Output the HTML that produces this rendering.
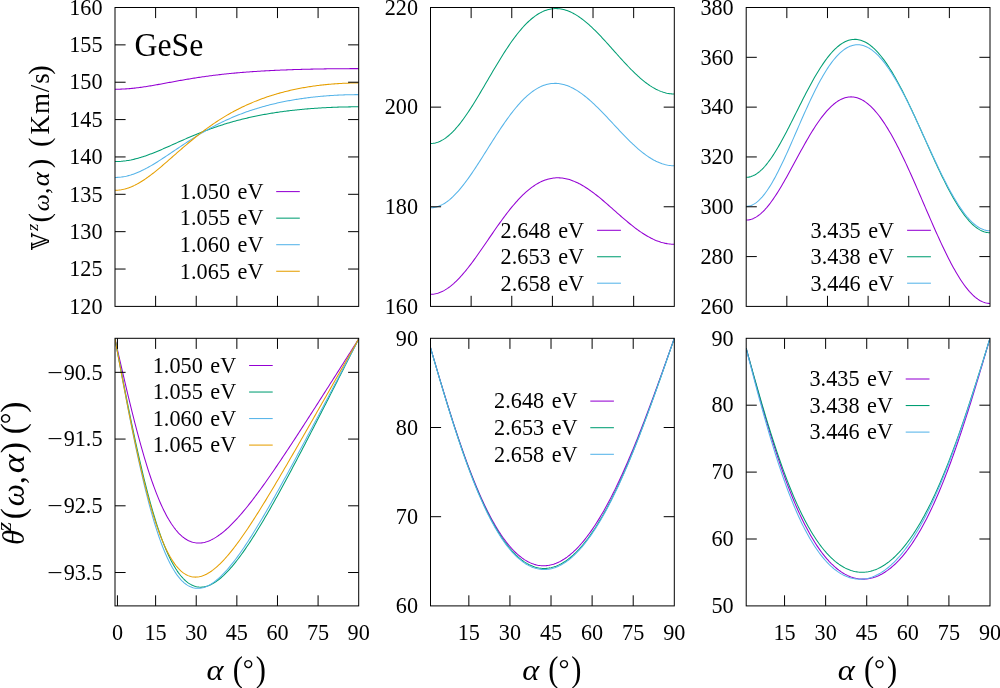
<!DOCTYPE html>
<html><head><meta charset="utf-8"><title>GeSe spin velocity</title>
<style>
html,body{margin:0;padding:0;background:#fff;}
svg{display:block;font-family:"Liberation Serif","DejaVu Serif",serif;}
text{fill:#000;}
</style></head>
<body>
<svg width="1000" height="688" viewBox="0 0 1000 688">
<defs><clipPath id="c00"><rect x="115.00" y="7.50" width="243.70" height="298.90"/></clipPath><clipPath id="c01"><rect x="115.00" y="338.30" width="243.70" height="267.60"/></clipPath><clipPath id="c10"><rect x="430.50" y="7.50" width="243.80" height="298.90"/></clipPath><clipPath id="c11"><rect x="430.50" y="338.30" width="243.80" height="267.60"/></clipPath><clipPath id="c20"><rect x="746.20" y="7.50" width="243.80" height="298.90"/></clipPath><clipPath id="c21"><rect x="746.20" y="338.30" width="243.80" height="267.60"/></clipPath></defs>
<rect width="1000" height="688" fill="#fff"/>
<polyline points="115.00,89.25 116.22,89.24 117.44,89.23 118.66,89.21 119.87,89.18 121.09,89.14 122.31,89.09 123.53,89.03 124.75,88.96 125.97,88.88 127.19,88.80 128.40,88.71 129.62,88.61 130.84,88.50 132.06,88.38 133.28,88.26 134.50,88.12 135.71,87.99 136.93,87.84 138.15,87.69 139.37,87.53 140.59,87.37 141.81,87.20 143.03,87.03 144.24,86.85 145.46,86.66 146.68,86.47 147.90,86.28 149.12,86.08 150.34,85.88 151.56,85.67 152.77,85.47 153.99,85.26 155.21,85.04 156.43,84.83 157.65,84.61 158.87,84.39 160.08,84.17 161.30,83.95 162.52,83.72 163.74,83.50 164.96,83.27 166.18,83.05 167.40,82.82 168.61,82.60 169.83,82.37 171.05,82.15 172.27,81.92 173.49,81.70 174.71,81.47 175.93,81.25 177.14,81.03 178.36,80.81 179.58,80.59 180.80,80.38 182.02,80.16 183.24,79.95 184.45,79.74 185.67,79.53 186.89,79.32 188.11,79.11 189.33,78.91 190.55,78.71 191.77,78.51 192.98,78.31 194.20,78.12 195.42,77.93 196.64,77.74 197.86,77.55 199.08,77.37 200.29,77.19 201.51,77.01 202.73,76.83 203.95,76.66 205.17,76.48 206.39,76.31 207.61,76.15 208.82,75.98 210.04,75.82 211.26,75.66 212.48,75.51 213.70,75.35 214.92,75.20 216.14,75.05 217.35,74.91 218.57,74.76 219.79,74.62 221.01,74.48 222.23,74.35 223.45,74.21 224.66,74.08 225.88,73.95 227.10,73.82 228.32,73.70 229.54,73.58 230.76,73.46 231.98,73.34 233.19,73.22 234.41,73.11 235.63,73.00 236.85,72.89 238.07,72.78 239.29,72.67 240.51,72.57 241.72,72.47 242.94,72.37 244.16,72.27 245.38,72.18 246.60,72.08 247.82,71.99 249.03,71.90 250.25,71.81 251.47,71.73 252.69,71.64 253.91,71.56 255.13,71.48 256.35,71.40 257.56,71.32 258.78,71.24 260.00,71.17 261.22,71.09 262.44,71.02 263.66,70.95 264.88,70.88 266.09,70.81 267.31,70.75 268.53,70.68 269.75,70.62 270.97,70.56 272.19,70.49 273.40,70.44 274.62,70.38 275.84,70.32 277.06,70.26 278.28,70.21 279.50,70.16 280.72,70.10 281.93,70.05 283.15,70.00 284.37,69.95 285.59,69.91 286.81,69.86 288.03,69.81 289.25,69.77 290.46,69.73 291.68,69.68 292.90,69.64 294.12,69.60 295.34,69.56 296.56,69.52 297.77,69.49 298.99,69.45 300.21,69.42 301.43,69.38 302.65,69.35 303.87,69.31 305.09,69.28 306.30,69.25 307.52,69.22 308.74,69.19 309.96,69.16 311.18,69.14 312.40,69.11 313.62,69.08 314.83,69.06 316.05,69.03 317.27,69.01 318.49,68.99 319.71,68.96 320.93,68.94 322.14,68.92 323.36,68.90 324.58,68.88 325.80,68.86 327.02,68.85 328.24,68.83 329.46,68.81 330.67,68.80 331.89,68.78 333.11,68.77 334.33,68.75 335.55,68.74 336.77,68.73 337.99,68.72 339.20,68.71 340.42,68.70 341.64,68.69 342.86,68.68 344.08,68.67 345.30,68.66 346.51,68.66 347.73,68.65 348.95,68.65 350.17,68.64 351.39,68.64 352.61,68.63 353.83,68.63 355.04,68.63 356.26,68.63 357.48,68.63 358.70,68.63" fill="none" stroke="#9400d3" stroke-width="1.05" stroke-linejoin="round" clip-path="url(#c00)"/>
<polyline points="115.00,161.58 116.22,161.57 117.44,161.54 118.66,161.49 119.87,161.42 121.09,161.34 122.31,161.23 123.53,161.10 124.75,160.95 125.97,160.79 127.19,160.60 128.40,160.40 129.62,160.18 130.84,159.95 132.06,159.69 133.28,159.42 134.50,159.13 135.71,158.83 136.93,158.51 138.15,158.17 139.37,157.82 140.59,157.46 141.81,157.08 143.03,156.69 144.24,156.29 145.46,155.88 146.68,155.45 147.90,155.01 149.12,154.57 150.34,154.11 151.56,153.64 152.77,153.17 153.99,152.69 155.21,152.20 156.43,151.70 157.65,151.19 158.87,150.68 160.08,150.17 161.30,149.65 162.52,149.12 163.74,148.59 164.96,148.06 166.18,147.52 167.40,146.98 168.61,146.44 169.83,145.90 171.05,145.36 172.27,144.81 173.49,144.27 174.71,143.72 175.93,143.18 177.14,142.63 178.36,142.09 179.58,141.55 180.80,141.01 182.02,140.47 183.24,139.93 184.45,139.39 185.67,138.86 186.89,138.33 188.11,137.81 189.33,137.28 190.55,136.76 191.77,136.25 192.98,135.74 194.20,135.23 195.42,134.72 196.64,134.22 197.86,133.73 199.08,133.24 200.29,132.75 201.51,132.27 202.73,131.79 203.95,131.32 205.17,130.86 206.39,130.39 207.61,129.94 208.82,129.49 210.04,129.04 211.26,128.60 212.48,128.17 213.70,127.74 214.92,127.31 216.14,126.89 217.35,126.48 218.57,126.07 219.79,125.67 221.01,125.27 222.23,124.88 223.45,124.49 224.66,124.11 225.88,123.74 227.10,123.37 228.32,123.00 229.54,122.64 230.76,122.29 231.98,121.94 233.19,121.60 234.41,121.26 235.63,120.92 236.85,120.60 238.07,120.27 239.29,119.96 240.51,119.64 241.72,119.34 242.94,119.03 244.16,118.73 245.38,118.44 246.60,118.15 247.82,117.87 249.03,117.59 250.25,117.32 251.47,117.05 252.69,116.78 253.91,116.52 255.13,116.27 256.35,116.01 257.56,115.77 258.78,115.53 260.00,115.29 261.22,115.05 262.44,114.82 263.66,114.60 264.88,114.38 266.09,114.16 267.31,113.94 268.53,113.73 269.75,113.53 270.97,113.33 272.19,113.13 273.40,112.94 274.62,112.74 275.84,112.56 277.06,112.37 278.28,112.20 279.50,112.02 280.72,111.85 281.93,111.68 283.15,111.51 284.37,111.35 285.59,111.19 286.81,111.04 288.03,110.89 289.25,110.74 290.46,110.59 291.68,110.45 292.90,110.31 294.12,110.17 295.34,110.04 296.56,109.91 297.77,109.79 298.99,109.66 300.21,109.54 301.43,109.42 302.65,109.31 303.87,109.20 305.09,109.09 306.30,108.98 307.52,108.88 308.74,108.78 309.96,108.68 311.18,108.58 312.40,108.49 313.62,108.40 314.83,108.31 316.05,108.23 317.27,108.15 318.49,108.07 319.71,107.99 320.93,107.92 322.14,107.85 323.36,107.78 324.58,107.71 325.80,107.65 327.02,107.58 328.24,107.52 329.46,107.47 330.67,107.41 331.89,107.36 333.11,107.31 334.33,107.27 335.55,107.22 336.77,107.18 337.99,107.14 339.20,107.10 340.42,107.06 341.64,107.03 342.86,107.00 344.08,106.97 345.30,106.95 346.51,106.92 347.73,106.90 348.95,106.88 350.17,106.86 351.39,106.85 352.61,106.84 353.83,106.83 355.04,106.82 356.26,106.81 357.48,106.81 358.70,106.81" fill="none" stroke="#009e73" stroke-width="1.05" stroke-linejoin="round" clip-path="url(#c00)"/>
<polyline points="115.00,177.42 116.22,177.41 117.44,177.36 118.66,177.29 119.87,177.18 121.09,177.05 122.31,176.89 123.53,176.69 124.75,176.47 125.97,176.22 127.19,175.94 128.40,175.63 129.62,175.30 130.84,174.94 132.06,174.55 133.28,174.14 134.50,173.70 135.71,173.24 136.93,172.76 138.15,172.25 139.37,171.72 140.59,171.17 141.81,170.60 143.03,170.01 144.24,169.40 145.46,168.77 146.68,168.13 147.90,167.47 149.12,166.79 150.34,166.10 151.56,165.40 152.77,164.68 153.99,163.95 155.21,163.21 156.43,162.45 157.65,161.69 158.87,160.92 160.08,160.14 161.30,159.36 162.52,158.56 163.74,157.76 164.96,156.96 166.18,156.15 167.40,155.34 168.61,154.52 169.83,153.70 171.05,152.88 172.27,152.06 173.49,151.24 174.71,150.42 175.93,149.60 177.14,148.78 178.36,147.96 179.58,147.14 180.80,146.32 182.02,145.51 183.24,144.70 184.45,143.90 185.67,143.09 186.89,142.30 188.11,141.50 189.33,140.72 190.55,139.93 191.77,139.16 192.98,138.39 194.20,137.62 195.42,136.86 196.64,136.11 197.86,135.36 199.08,134.62 200.29,133.89 201.51,133.17 202.73,132.45 203.95,131.74 205.17,131.04 206.39,130.34 207.61,129.65 208.82,128.97 210.04,128.30 211.26,127.64 212.48,126.98 213.70,126.34 214.92,125.70 216.14,125.06 217.35,124.44 218.57,123.83 219.79,123.22 221.01,122.62 222.23,122.03 223.45,121.45 224.66,120.87 225.88,120.30 227.10,119.75 228.32,119.20 229.54,118.65 230.76,118.12 231.98,117.59 233.19,117.07 234.41,116.56 235.63,116.06 236.85,115.56 238.07,115.08 239.29,114.60 240.51,114.12 241.72,113.66 242.94,113.20 244.16,112.75 245.38,112.30 246.60,111.87 247.82,111.44 249.03,111.02 250.25,110.60 251.47,110.20 252.69,109.79 253.91,109.40 255.13,109.01 256.35,108.63 257.56,108.26 258.78,107.89 260.00,107.53 261.22,107.17 262.44,106.82 263.66,106.48 264.88,106.15 266.09,105.82 267.31,105.49 268.53,105.17 269.75,104.86 270.97,104.56 272.19,104.25 273.40,103.96 274.62,103.67 275.84,103.39 277.06,103.11 278.28,102.84 279.50,102.57 280.72,102.31 281.93,102.05 283.15,101.80 284.37,101.55 285.59,101.31 286.81,101.08 288.03,100.84 289.25,100.62 290.46,100.40 291.68,100.18 292.90,99.97 294.12,99.76 295.34,99.56 296.56,99.36 297.77,99.17 298.99,98.98 300.21,98.80 301.43,98.62 302.65,98.44 303.87,98.27 305.09,98.11 306.30,97.94 307.52,97.79 308.74,97.63 309.96,97.48 311.18,97.34 312.40,97.20 313.62,97.06 314.83,96.93 316.05,96.80 317.27,96.67 318.49,96.55 319.71,96.43 320.93,96.32 322.14,96.21 323.36,96.11 324.58,96.00 325.80,95.91 327.02,95.81 328.24,95.72 329.46,95.64 330.67,95.55 331.89,95.47 333.11,95.40 334.33,95.33 335.55,95.26 336.77,95.19 337.99,95.13 339.20,95.07 340.42,95.02 341.64,94.97 342.86,94.92 344.08,94.88 345.30,94.84 346.51,94.80 347.73,94.77 348.95,94.74 350.17,94.71 351.39,94.69 352.61,94.67 353.83,94.66 355.04,94.64 356.26,94.64 357.48,94.63 358.70,94.63" fill="none" stroke="#56b4e9" stroke-width="1.05" stroke-linejoin="round" clip-path="url(#c00)"/>
<polyline points="115.00,190.28 116.22,190.26 117.44,190.20 118.66,190.10 119.87,189.96 121.09,189.78 122.31,189.57 123.53,189.31 124.75,189.02 125.97,188.68 127.19,188.32 128.40,187.91 129.62,187.47 130.84,187.00 132.06,186.49 133.28,185.94 134.50,185.37 135.71,184.76 136.93,184.12 138.15,183.45 139.37,182.76 140.59,182.03 141.81,181.28 143.03,180.50 144.24,179.70 145.46,178.88 146.68,178.03 147.90,177.16 149.12,176.27 150.34,175.37 151.56,174.44 152.77,173.50 153.99,172.54 155.21,171.57 156.43,170.58 157.65,169.58 158.87,168.57 160.08,167.55 161.30,166.53 162.52,165.49 163.74,164.44 164.96,163.39 166.18,162.34 167.40,161.28 168.61,160.21 169.83,159.14 171.05,158.07 172.27,157.00 173.49,155.93 174.71,154.86 175.93,153.79 177.14,152.72 178.36,151.66 179.58,150.59 180.80,149.53 182.02,148.48 183.24,147.42 184.45,146.38 185.67,145.34 186.89,144.30 188.11,143.27 189.33,142.25 190.55,141.24 191.77,140.23 192.98,139.23 194.20,138.24 195.42,137.26 196.64,136.28 197.86,135.32 199.08,134.36 200.29,133.41 201.51,132.48 202.73,131.55 203.95,130.63 205.17,129.72 206.39,128.83 207.61,127.94 208.82,127.06 210.04,126.20 211.26,125.34 212.48,124.49 213.70,123.66 214.92,122.83 216.14,122.02 217.35,121.22 218.57,120.42 219.79,119.64 221.01,118.87 222.23,118.11 223.45,117.36 224.66,116.62 225.88,115.89 227.10,115.17 228.32,114.46 229.54,113.77 230.76,113.08 231.98,112.40 233.19,111.73 234.41,111.08 235.63,110.43 236.85,109.79 238.07,109.17 239.29,108.55 240.51,107.94 241.72,107.34 242.94,106.76 244.16,106.18 245.38,105.61 246.60,105.05 247.82,104.50 249.03,103.96 250.25,103.43 251.47,102.90 252.69,102.39 253.91,101.88 255.13,101.38 256.35,100.90 257.56,100.42 258.78,99.95 260.00,99.48 261.22,99.03 262.44,98.58 263.66,98.14 264.88,97.71 266.09,97.29 267.31,96.87 268.53,96.46 269.75,96.06 270.97,95.67 272.19,95.29 273.40,94.91 274.62,94.54 275.84,94.18 277.06,93.82 278.28,93.47 279.50,93.13 280.72,92.79 281.93,92.46 283.15,92.14 284.37,91.83 285.59,91.52 286.81,91.22 288.03,90.92 289.25,90.63 290.46,90.35 291.68,90.07 292.90,89.80 294.12,89.54 295.34,89.28 296.56,89.02 297.77,88.78 298.99,88.54 300.21,88.30 301.43,88.07 302.65,87.85 303.87,87.63 305.09,87.42 306.30,87.21 307.52,87.01 308.74,86.81 309.96,86.62 311.18,86.43 312.40,86.25 313.62,86.08 314.83,85.91 316.05,85.74 317.27,85.58 318.49,85.43 319.71,85.28 320.93,85.14 322.14,85.00 323.36,84.86 324.58,84.73 325.80,84.61 327.02,84.48 328.24,84.37 329.46,84.26 330.67,84.15 331.89,84.05 333.11,83.95 334.33,83.86 335.55,83.77 336.77,83.69 337.99,83.61 339.20,83.54 340.42,83.47 341.64,83.41 342.86,83.35 344.08,83.29 345.30,83.24 346.51,83.19 347.73,83.15 348.95,83.11 350.17,83.08 351.39,83.05 352.61,83.03 353.83,83.01 355.04,82.99 356.26,82.98 357.48,82.97 358.70,82.97" fill="none" stroke="#e69f00" stroke-width="1.05" stroke-linejoin="round" clip-path="url(#c00)"/>
<rect x="115.00" y="7.50" width="243.70" height="298.90" fill="none" stroke="#000" stroke-width="1.0"/>
<line x1="155.62" y1="306.40" x2="155.62" y2="295.80" stroke="#000" stroke-width="1.0"/>
<line x1="155.62" y1="7.50" x2="155.62" y2="18.10" stroke="#000" stroke-width="1.0"/>
<line x1="196.23" y1="306.40" x2="196.23" y2="295.80" stroke="#000" stroke-width="1.0"/>
<line x1="196.23" y1="7.50" x2="196.23" y2="18.10" stroke="#000" stroke-width="1.0"/>
<line x1="236.85" y1="306.40" x2="236.85" y2="295.80" stroke="#000" stroke-width="1.0"/>
<line x1="236.85" y1="7.50" x2="236.85" y2="18.10" stroke="#000" stroke-width="1.0"/>
<line x1="277.47" y1="306.40" x2="277.47" y2="295.80" stroke="#000" stroke-width="1.0"/>
<line x1="277.47" y1="7.50" x2="277.47" y2="18.10" stroke="#000" stroke-width="1.0"/>
<line x1="318.08" y1="306.40" x2="318.08" y2="295.80" stroke="#000" stroke-width="1.0"/>
<line x1="318.08" y1="7.50" x2="318.08" y2="18.10" stroke="#000" stroke-width="1.0"/>
<line x1="115.00" y1="269.04" x2="125.60" y2="269.04" stroke="#000" stroke-width="1.0"/>
<line x1="358.70" y1="269.04" x2="348.10" y2="269.04" stroke="#000" stroke-width="1.0"/>
<line x1="115.00" y1="231.67" x2="125.60" y2="231.67" stroke="#000" stroke-width="1.0"/>
<line x1="358.70" y1="231.67" x2="348.10" y2="231.67" stroke="#000" stroke-width="1.0"/>
<line x1="115.00" y1="194.31" x2="125.60" y2="194.31" stroke="#000" stroke-width="1.0"/>
<line x1="358.70" y1="194.31" x2="348.10" y2="194.31" stroke="#000" stroke-width="1.0"/>
<line x1="115.00" y1="156.95" x2="125.60" y2="156.95" stroke="#000" stroke-width="1.0"/>
<line x1="358.70" y1="156.95" x2="348.10" y2="156.95" stroke="#000" stroke-width="1.0"/>
<line x1="115.00" y1="119.59" x2="125.60" y2="119.59" stroke="#000" stroke-width="1.0"/>
<line x1="358.70" y1="119.59" x2="348.10" y2="119.59" stroke="#000" stroke-width="1.0"/>
<line x1="115.00" y1="82.22" x2="125.60" y2="82.22" stroke="#000" stroke-width="1.0"/>
<line x1="358.70" y1="82.22" x2="348.10" y2="82.22" stroke="#000" stroke-width="1.0"/>
<line x1="115.00" y1="44.86" x2="125.60" y2="44.86" stroke="#000" stroke-width="1.0"/>
<line x1="358.70" y1="44.86" x2="348.10" y2="44.86" stroke="#000" stroke-width="1.0"/>
<text x="102.50" y="313.60" font-size="22.2" text-anchor="end">120</text>
<text x="102.50" y="276.24" font-size="22.2" text-anchor="end">125</text>
<text x="102.50" y="238.87" font-size="22.2" text-anchor="end">130</text>
<text x="102.50" y="201.51" font-size="22.2" text-anchor="end">135</text>
<text x="102.50" y="164.15" font-size="22.2" text-anchor="end">140</text>
<text x="102.50" y="126.79" font-size="22.2" text-anchor="end">145</text>
<text x="102.50" y="89.42" font-size="22.2" text-anchor="end">150</text>
<text x="102.50" y="52.06" font-size="22.2" text-anchor="end">155</text>
<text x="102.50" y="14.70" font-size="22.2" text-anchor="end">160</text>
<polyline points="115.00,338.97 116.22,344.33 117.44,349.68 118.66,355.03 119.87,360.36 121.09,365.67 122.31,370.96 123.53,376.22 124.75,381.44 125.97,386.63 127.19,391.77 128.40,396.87 129.62,401.92 130.84,406.91 132.06,411.84 133.28,416.71 134.50,421.51 135.71,426.24 136.93,430.90 138.15,435.48 139.37,439.98 140.59,444.40 141.81,448.73 143.03,452.98 144.24,457.13 145.46,461.20 146.68,465.17 147.90,469.04 149.12,472.81 150.34,476.49 151.56,480.07 152.77,483.54 153.99,486.91 155.21,490.18 156.43,493.35 157.65,496.41 158.87,499.37 160.08,502.22 161.30,504.97 162.52,507.61 163.74,510.15 164.96,512.59 166.18,514.92 167.40,517.16 168.61,519.29 169.83,521.31 171.05,523.24 172.27,525.07 173.49,526.80 174.71,528.44 175.93,529.98 177.14,531.42 178.36,532.78 179.58,534.04 180.80,535.21 182.02,536.29 183.24,537.29 184.45,538.20 185.67,539.02 186.89,539.77 188.11,540.43 189.33,541.01 190.55,541.52 191.77,541.95 192.98,542.30 194.20,542.59 195.42,542.80 196.64,542.95 197.86,543.02 199.08,543.03 200.29,542.98 201.51,542.86 202.73,542.69 203.95,542.45 205.17,542.16 206.39,541.81 207.61,541.40 208.82,540.95 210.04,540.44 211.26,539.88 212.48,539.27 213.70,538.61 214.92,537.91 216.14,537.16 217.35,536.37 218.57,535.54 219.79,534.67 221.01,533.76 222.23,532.81 223.45,531.82 224.66,530.80 225.88,529.74 227.10,528.65 228.32,527.53 229.54,526.38 230.76,525.19 231.98,523.98 233.19,522.74 234.41,521.47 235.63,520.17 236.85,518.85 238.07,517.51 239.29,516.14 240.51,514.75 241.72,513.33 242.94,511.90 244.16,510.44 245.38,508.97 246.60,507.47 247.82,505.96 249.03,504.43 250.25,502.88 251.47,501.32 252.69,499.74 253.91,498.14 255.13,496.53 256.35,494.91 257.56,493.27 258.78,491.62 260.00,489.96 261.22,488.28 262.44,486.60 263.66,484.90 264.88,483.19 266.09,481.48 267.31,479.75 268.53,478.01 269.75,476.27 270.97,474.51 272.19,472.75 273.40,470.98 274.62,469.20 275.84,467.42 277.06,465.63 278.28,463.83 279.50,462.02 280.72,460.21 281.93,458.39 283.15,456.57 284.37,454.75 285.59,452.91 286.81,451.08 288.03,449.23 289.25,447.39 290.46,445.54 291.68,443.68 292.90,441.83 294.12,439.96 295.34,438.10 296.56,436.23 297.77,434.36 298.99,432.48 300.21,430.61 301.43,428.73 302.65,426.85 303.87,424.96 305.09,423.07 306.30,421.18 307.52,419.29 308.74,417.40 309.96,415.50 311.18,413.61 312.40,411.71 313.62,409.81 314.83,407.91 316.05,406.01 317.27,404.10 318.49,402.20 319.71,400.29 320.93,398.38 322.14,396.47 323.36,394.57 324.58,392.65 325.80,390.74 327.02,388.83 328.24,386.92 329.46,385.01 330.67,383.09 331.89,381.18 333.11,379.26 334.33,377.35 335.55,375.43 336.77,373.51 337.99,371.60 339.20,369.68 340.42,367.76 341.64,365.84 342.86,363.92 344.08,362.01 345.30,360.09 346.51,358.17 347.73,356.25 348.95,354.33 350.17,352.41 351.39,350.49 352.61,348.57 353.83,346.65 355.04,344.73 356.26,342.81 357.48,340.89 358.70,338.97" fill="none" stroke="#9400d3" stroke-width="1.05" stroke-linejoin="round" clip-path="url(#c01)"/>
<polyline points="115.00,338.97 116.22,345.31 117.44,351.65 118.66,357.98 119.87,364.29 121.09,370.58 122.31,376.85 123.53,383.08 124.75,389.27 125.97,395.42 127.19,401.53 128.40,407.58 129.62,413.57 130.84,419.50 132.06,425.37 133.28,431.16 134.50,436.89 135.71,442.53 136.93,448.09 138.15,453.56 139.37,458.94 140.59,464.23 141.81,469.42 143.03,474.52 144.24,479.51 145.46,484.40 146.68,489.18 147.90,493.85 149.12,498.41 150.34,502.86 151.56,507.20 152.77,511.41 153.99,515.52 155.21,519.50 156.43,523.37 157.65,527.11 158.87,530.74 160.08,534.24 161.30,537.63 162.52,540.89 163.74,544.04 164.96,547.06 166.18,549.96 167.40,552.75 168.61,555.41 169.83,557.96 171.05,560.39 172.27,562.71 173.49,564.91 174.71,566.99 175.93,568.97 177.14,570.83 178.36,572.58 179.58,574.22 180.80,575.76 182.02,577.19 183.24,578.52 184.45,579.74 185.67,580.86 186.89,581.89 188.11,582.82 189.33,583.65 190.55,584.39 191.77,585.03 192.98,585.59 194.20,586.06 195.42,586.44 196.64,586.74 197.86,586.96 199.08,587.09 200.29,587.15 201.51,587.12 202.73,587.03 203.95,586.86 205.17,586.62 206.39,586.31 207.61,585.93 208.82,585.48 210.04,584.97 211.26,584.40 212.48,583.76 213.70,583.07 214.92,582.32 216.14,581.51 217.35,580.64 218.57,579.73 219.79,578.76 221.01,577.74 222.23,576.67 223.45,575.56 224.66,574.40 225.88,573.19 227.10,571.95 228.32,570.66 229.54,569.32 230.76,567.95 231.98,566.55 233.19,565.10 234.41,563.62 235.63,562.10 236.85,560.55 238.07,558.97 239.29,557.36 240.51,555.71 241.72,554.04 242.94,552.34 244.16,550.61 245.38,548.86 246.60,547.07 247.82,545.27 249.03,543.44 250.25,541.59 251.47,539.71 252.69,537.82 253.91,535.90 255.13,533.96 256.35,532.00 257.56,530.03 258.78,528.04 260.00,526.03 261.22,524.00 262.44,521.96 263.66,519.90 264.88,517.82 266.09,515.74 267.31,513.64 268.53,511.52 269.75,509.39 270.97,507.25 272.19,505.10 273.40,502.94 274.62,500.76 275.84,498.58 277.06,496.38 278.28,494.18 279.50,491.97 280.72,489.74 281.93,487.51 283.15,485.27 284.37,483.03 285.59,480.77 286.81,478.51 288.03,476.24 289.25,473.96 290.46,471.68 291.68,469.39 292.90,467.10 294.12,464.80 295.34,462.49 296.56,460.18 297.77,457.87 298.99,455.55 300.21,453.22 301.43,450.90 302.65,448.56 303.87,446.23 305.09,443.89 306.30,441.54 307.52,439.19 308.74,436.84 309.96,434.49 311.18,432.13 312.40,429.77 313.62,427.41 314.83,425.04 316.05,422.68 317.27,420.31 318.49,417.93 319.71,415.56 320.93,413.18 322.14,410.81 323.36,408.43 324.58,406.04 325.80,403.66 327.02,401.28 328.24,398.89 329.46,396.50 330.67,394.12 331.89,391.73 333.11,389.33 334.33,386.94 335.55,384.55 336.77,382.16 337.99,379.76 339.20,377.36 340.42,374.97 341.64,372.57 342.86,370.17 344.08,367.78 345.30,365.38 346.51,362.98 347.73,360.58 348.95,358.18 350.17,355.78 351.39,353.38 352.61,350.97 353.83,348.57 355.04,346.17 356.26,343.77 357.48,341.37 358.70,338.97" fill="none" stroke="#009e73" stroke-width="1.05" stroke-linejoin="round" clip-path="url(#c01)"/>
<polyline points="115.00,338.97 116.22,345.60 117.44,352.23 118.66,358.84 119.87,365.43 121.09,372.00 122.31,378.54 123.53,385.05 124.75,391.50 125.97,397.92 127.19,404.27 128.40,410.57 129.62,416.80 130.84,422.96 132.06,429.05 133.28,435.06 134.50,440.98 135.71,446.81 136.93,452.55 138.15,458.20 139.37,463.74 140.59,469.17 141.81,474.50 143.03,479.72 144.24,484.82 145.46,489.81 146.68,494.68 147.90,499.42 149.12,504.05 150.34,508.55 151.56,512.92 152.77,517.17 153.99,521.28 155.21,525.27 156.43,529.13 157.65,532.86 158.87,536.46 160.08,539.92 161.30,543.26 162.52,546.47 163.74,549.54 164.96,552.49 166.18,555.31 167.40,558.00 168.61,560.56 169.83,563.00 171.05,565.32 172.27,567.51 173.49,569.58 174.71,571.54 175.93,573.37 177.14,575.09 178.36,576.69 179.58,578.18 180.80,579.56 182.02,580.83 183.24,581.99 184.45,583.05 185.67,584.00 186.89,584.86 188.11,585.61 189.33,586.27 190.55,586.84 191.77,587.31 192.98,587.69 194.20,587.98 195.42,588.19 196.64,588.31 197.86,588.35 199.08,588.31 200.29,588.19 201.51,588.00 202.73,587.73 203.95,587.39 205.17,586.98 206.39,586.51 207.61,585.97 208.82,585.36 210.04,584.69 211.26,583.96 212.48,583.17 213.70,582.33 214.92,581.43 216.14,580.48 217.35,579.47 218.57,578.42 219.79,577.31 221.01,576.16 222.23,574.97 223.45,573.73 224.66,572.45 225.88,571.12 227.10,569.76 228.32,568.36 229.54,566.92 230.76,565.44 231.98,563.93 233.19,562.39 234.41,560.82 235.63,559.21 236.85,557.57 238.07,555.91 239.29,554.22 240.51,552.50 241.72,550.75 242.94,548.98 244.16,547.19 245.38,545.37 246.60,543.53 247.82,541.67 249.03,539.79 250.25,537.88 251.47,535.96 252.69,534.02 253.91,532.07 255.13,530.09 256.35,528.10 257.56,526.10 258.78,524.08 260.00,522.04 261.22,520.00 262.44,517.93 263.66,515.86 264.88,513.77 266.09,511.68 267.31,509.57 268.53,507.45 269.75,505.32 270.97,503.18 272.19,501.03 273.40,498.87 274.62,496.71 275.84,494.53 277.06,492.35 278.28,490.16 279.50,487.96 280.72,485.76 281.93,483.55 283.15,481.34 284.37,479.11 285.59,476.89 286.81,474.65 288.03,472.42 289.25,470.17 290.46,467.93 291.68,465.67 292.90,463.42 294.12,461.16 295.34,458.90 296.56,456.63 297.77,454.36 298.99,452.09 300.21,449.81 301.43,447.53 302.65,445.25 303.87,442.96 305.09,440.68 306.30,438.39 307.52,436.10 308.74,433.80 309.96,431.51 311.18,429.21 312.40,426.91 313.62,424.61 314.83,422.31 316.05,420.01 317.27,417.70 318.49,415.40 319.71,413.09 320.93,410.78 322.14,408.47 323.36,406.16 324.58,403.85 325.80,401.54 327.02,399.23 328.24,396.92 329.46,394.60 330.67,392.29 331.89,389.97 333.11,387.66 334.33,385.34 335.55,383.03 336.77,380.71 337.99,378.39 339.20,376.08 340.42,373.76 341.64,371.44 342.86,369.12 344.08,366.80 345.30,364.48 346.51,362.16 347.73,359.85 348.95,357.53 350.17,355.21 351.39,352.89 352.61,350.57 353.83,348.25 355.04,345.93 356.26,343.61 357.48,341.29 358.70,338.97" fill="none" stroke="#56b4e9" stroke-width="1.05" stroke-linejoin="round" clip-path="url(#c01)"/>
<polyline points="115.00,338.97 116.22,345.53 117.44,352.09 118.66,358.64 119.87,365.17 121.09,371.67 122.31,378.13 123.53,384.56 124.75,390.94 125.97,397.27 127.19,403.54 128.40,409.75 129.62,415.89 130.84,421.95 132.06,427.93 133.28,433.83 134.50,439.64 135.71,445.35 136.93,450.97 138.15,456.48 139.37,461.88 140.59,467.18 141.81,472.36 143.03,477.42 144.24,482.37 145.46,487.19 146.68,491.89 147.90,496.46 149.12,500.90 150.34,505.21 151.56,509.39 152.77,513.45 153.99,517.36 155.21,521.15 156.43,524.80 157.65,528.31 158.87,531.70 160.08,534.95 161.30,538.07 162.52,541.05 163.74,543.90 164.96,546.63 166.18,549.22 167.40,551.68 168.61,554.02 169.83,556.23 171.05,558.32 172.27,560.29 173.49,562.14 174.71,563.86 175.93,565.48 177.14,566.97 178.36,568.36 179.58,569.63 180.80,570.79 182.02,571.85 183.24,572.81 184.45,573.66 185.67,574.42 186.89,575.07 188.11,575.63 189.33,576.10 190.55,576.48 191.77,576.77 192.98,576.98 194.20,577.10 195.42,577.14 196.64,577.10 197.86,576.98 199.08,576.79 200.29,576.53 201.51,576.19 202.73,575.79 203.95,575.32 205.17,574.79 206.39,574.19 207.61,573.54 208.82,572.82 210.04,572.05 211.26,571.23 212.48,570.35 213.70,569.42 214.92,568.44 216.14,567.41 217.35,566.34 218.57,565.22 219.79,564.06 221.01,562.85 222.23,561.61 223.45,560.33 224.66,559.01 225.88,557.65 227.10,556.26 228.32,554.84 229.54,553.38 230.76,551.90 231.98,550.38 233.19,548.84 234.41,547.26 235.63,545.66 236.85,544.04 238.07,542.39 239.29,540.72 240.51,539.02 241.72,537.31 242.94,535.57 244.16,533.81 245.38,532.04 246.60,530.24 247.82,528.43 249.03,526.60 250.25,524.76 251.47,522.90 252.69,521.03 253.91,519.14 255.13,517.24 256.35,515.32 257.56,513.39 258.78,511.46 260.00,509.51 261.22,507.55 262.44,505.57 263.66,503.59 264.88,501.61 266.09,499.61 267.31,497.60 268.53,495.59 269.75,493.56 270.97,491.53 272.19,489.50 273.40,487.46 274.62,485.41 275.84,483.35 277.06,481.29 278.28,479.23 279.50,477.16 280.72,475.08 281.93,473.00 283.15,470.92 284.37,468.83 285.59,466.74 286.81,464.65 288.03,462.55 289.25,460.45 290.46,458.34 291.68,456.24 292.90,454.13 294.12,452.02 295.34,449.90 296.56,447.79 297.77,445.67 298.99,443.55 300.21,441.43 301.43,439.31 302.65,437.18 303.87,435.06 305.09,432.93 306.30,430.80 307.52,428.67 308.74,426.54 309.96,424.41 311.18,422.28 312.40,420.15 313.62,418.02 314.83,415.88 316.05,413.75 317.27,411.61 318.49,409.48 319.71,407.34 320.93,405.21 322.14,403.07 323.36,400.94 324.58,398.80 325.80,396.66 327.02,394.53 328.24,392.39 329.46,390.25 330.67,388.12 331.89,385.98 333.11,383.84 334.33,381.71 335.55,379.57 336.77,377.43 337.99,375.29 339.20,373.16 340.42,371.02 341.64,368.88 342.86,366.75 344.08,364.61 345.30,362.47 346.51,360.34 347.73,358.20 348.95,356.06 350.17,353.92 351.39,351.79 352.61,349.65 353.83,347.51 355.04,345.38 356.26,343.24 357.48,341.10 358.70,338.97" fill="none" stroke="#e69f00" stroke-width="1.05" stroke-linejoin="round" clip-path="url(#c01)"/>
<rect x="115.00" y="338.30" width="243.70" height="267.60" fill="none" stroke="#000" stroke-width="1.0"/>
<line x1="117.44" y1="605.90" x2="117.44" y2="595.30" stroke="#000" stroke-width="1.0"/>
<line x1="117.44" y1="338.30" x2="117.44" y2="348.90" stroke="#000" stroke-width="1.0"/>
<line x1="155.62" y1="605.90" x2="155.62" y2="595.30" stroke="#000" stroke-width="1.0"/>
<line x1="155.62" y1="338.30" x2="155.62" y2="348.90" stroke="#000" stroke-width="1.0"/>
<line x1="196.23" y1="605.90" x2="196.23" y2="595.30" stroke="#000" stroke-width="1.0"/>
<line x1="196.23" y1="338.30" x2="196.23" y2="348.90" stroke="#000" stroke-width="1.0"/>
<line x1="236.85" y1="605.90" x2="236.85" y2="595.30" stroke="#000" stroke-width="1.0"/>
<line x1="236.85" y1="338.30" x2="236.85" y2="348.90" stroke="#000" stroke-width="1.0"/>
<line x1="277.47" y1="605.90" x2="277.47" y2="595.30" stroke="#000" stroke-width="1.0"/>
<line x1="277.47" y1="338.30" x2="277.47" y2="348.90" stroke="#000" stroke-width="1.0"/>
<line x1="318.08" y1="605.90" x2="318.08" y2="595.30" stroke="#000" stroke-width="1.0"/>
<line x1="318.08" y1="338.30" x2="318.08" y2="348.90" stroke="#000" stroke-width="1.0"/>
<line x1="115.00" y1="372.33" x2="125.60" y2="372.33" stroke="#000" stroke-width="1.0"/>
<line x1="358.70" y1="372.33" x2="348.10" y2="372.33" stroke="#000" stroke-width="1.0"/>
<line x1="115.00" y1="439.07" x2="125.60" y2="439.07" stroke="#000" stroke-width="1.0"/>
<line x1="358.70" y1="439.07" x2="348.10" y2="439.07" stroke="#000" stroke-width="1.0"/>
<line x1="115.00" y1="505.80" x2="125.60" y2="505.80" stroke="#000" stroke-width="1.0"/>
<line x1="358.70" y1="505.80" x2="348.10" y2="505.80" stroke="#000" stroke-width="1.0"/>
<line x1="115.00" y1="572.53" x2="125.60" y2="572.53" stroke="#000" stroke-width="1.0"/>
<line x1="358.70" y1="572.53" x2="348.10" y2="572.53" stroke="#000" stroke-width="1.0"/>
<text x="102.50" y="379.53" font-size="22.2" text-anchor="end">90.5</text>
<text transform="translate(47.34,379.53) scale(1.24,1)" font-size="22.2">−</text>
<text x="102.50" y="446.27" font-size="22.2" text-anchor="end">91.5</text>
<text transform="translate(47.34,446.27) scale(1.24,1)" font-size="22.2">−</text>
<text x="102.50" y="513.00" font-size="22.2" text-anchor="end">92.5</text>
<text transform="translate(47.34,513.00) scale(1.24,1)" font-size="22.2">−</text>
<text x="102.50" y="579.73" font-size="22.2" text-anchor="end">93.5</text>
<text transform="translate(47.34,579.73) scale(1.24,1)" font-size="22.2">−</text>
<text x="117.44" y="640.00" font-size="22.2" text-anchor="middle">0</text>
<text x="155.62" y="640.00" font-size="22.2" text-anchor="middle">15</text>
<text x="196.23" y="640.00" font-size="22.2" text-anchor="middle">30</text>
<text x="236.85" y="640.00" font-size="22.2" text-anchor="middle">45</text>
<text x="277.47" y="640.00" font-size="22.2" text-anchor="middle">60</text>
<text x="318.08" y="640.00" font-size="22.2" text-anchor="middle">75</text>
<text x="358.70" y="640.00" font-size="22.2" text-anchor="middle">90</text>
<text transform="translate(206.60,680.1) scale(1.13,1)" font-size="28.8" font-style="italic">α</text>
<text transform="translate(232.73,680.6) scale(0.85,1)" font-size="36">(</text>
<text x="242.85" y="677.9" font-size="27.5">°</text>
<text transform="translate(255.63,680.6) scale(0.85,1)" font-size="36">)</text>
<polyline points="430.50,294.29 431.72,294.26 432.94,294.17 434.16,294.02 435.38,293.80 436.60,293.52 437.81,293.19 439.03,292.79 440.25,292.33 441.47,291.81 442.69,291.23 443.91,290.60 445.13,289.91 446.35,289.16 447.57,288.36 448.78,287.50 450.00,286.59 451.22,285.63 452.44,284.62 453.66,283.56 454.88,282.45 456.10,281.29 457.32,280.09 458.54,278.84 459.76,277.55 460.98,276.23 462.19,274.86 463.41,273.45 464.63,272.01 465.85,270.54 467.07,269.03 468.29,267.49 469.51,265.92 470.73,264.33 471.95,262.71 473.16,261.07 474.38,259.40 475.60,257.72 476.82,256.02 478.04,254.30 479.26,252.57 480.48,250.82 481.70,249.06 482.92,247.30 484.14,245.53 485.36,243.75 486.57,241.97 487.79,240.19 489.01,238.41 490.23,236.63 491.45,234.85 492.67,233.08 493.89,231.31 495.11,229.55 496.33,227.81 497.54,226.07 498.76,224.35 499.98,222.64 501.20,220.95 502.42,219.28 503.64,217.62 504.86,215.99 506.08,214.38 507.30,212.79 508.52,211.22 509.74,209.68 510.95,208.17 512.17,206.68 513.39,205.22 514.61,203.80 515.83,202.40 517.05,201.03 518.27,199.70 519.49,198.40 520.71,197.14 521.92,195.91 523.14,194.72 524.36,193.57 525.58,192.45 526.80,191.37 528.02,190.33 529.24,189.33 530.46,188.36 531.68,187.44 532.90,186.56 534.12,185.72 535.33,184.92 536.55,184.17 537.77,183.45 538.99,182.78 540.21,182.15 541.43,181.56 542.65,181.02 543.87,180.52 545.09,180.06 546.30,179.64 547.52,179.27 548.74,178.94 549.96,178.65 551.18,178.41 552.40,178.20 553.62,178.04 554.84,177.92 556.06,177.85 557.28,177.81 558.50,177.82 559.71,177.86 560.93,177.95 562.15,178.07 563.37,178.23 564.59,178.44 565.81,178.68 567.03,178.96 568.25,179.27 569.47,179.62 570.68,180.01 571.90,180.43 573.12,180.89 574.34,181.38 575.56,181.90 576.78,182.46 578.00,183.05 579.22,183.66 580.44,184.31 581.66,184.99 582.88,185.69 584.09,186.42 585.31,187.18 586.53,187.96 587.75,188.77 588.97,189.60 590.19,190.45 591.41,191.33 592.63,192.22 593.85,193.13 595.06,194.07 596.28,195.02 597.50,195.98 598.72,196.96 599.94,197.96 601.16,198.97 602.38,199.99 603.60,201.02 604.82,202.06 606.04,203.11 607.25,204.17 608.47,205.23 609.69,206.30 610.91,207.38 612.13,208.45 613.35,209.53 614.57,210.61 615.79,211.69 617.01,212.77 618.23,213.85 619.44,214.92 620.66,215.99 621.88,217.05 623.10,218.10 624.32,219.15 625.54,220.19 626.76,221.22 627.98,222.24 629.20,223.24 630.42,224.24 631.63,225.21 632.85,226.18 634.07,227.12 635.29,228.05 636.51,228.97 637.73,229.86 638.95,230.73 640.17,231.58 641.39,232.42 642.61,233.22 643.82,234.01 645.04,234.77 646.26,235.51 647.48,236.22 648.70,236.90 649.92,237.56 651.14,238.19 652.36,238.79 653.58,239.36 654.80,239.91 656.01,240.42 657.23,240.90 658.45,241.36 659.67,241.77 660.89,242.16 662.11,242.52 663.33,242.84 664.55,243.13 665.77,243.39 666.99,243.61 668.20,243.80 669.42,243.95 670.64,244.07 671.86,244.16 673.08,244.21 674.30,244.23" fill="none" stroke="#9400d3" stroke-width="1.05" stroke-linejoin="round" clip-path="url(#c10)"/>
<polyline points="430.50,143.50 431.72,143.46 432.94,143.35 434.16,143.17 435.38,142.92 436.60,142.59 437.81,142.19 439.03,141.72 440.25,141.19 441.47,140.58 442.69,139.90 443.91,139.15 445.13,138.34 446.35,137.46 447.57,136.51 448.78,135.51 450.00,134.44 451.22,133.30 452.44,132.11 453.66,130.86 454.88,129.56 456.10,128.20 457.32,126.78 458.54,125.32 459.76,123.80 460.98,122.24 462.19,120.63 463.41,118.98 464.63,117.29 465.85,115.55 467.07,113.78 468.29,111.97 469.51,110.13 470.73,108.26 471.95,106.36 473.16,104.43 474.38,102.47 475.60,100.49 476.82,98.49 478.04,96.48 479.26,94.44 480.48,92.39 481.70,90.33 482.92,88.26 484.14,86.19 485.36,84.10 486.57,82.02 487.79,79.93 489.01,77.84 490.23,75.75 491.45,73.67 492.67,71.60 493.89,69.53 495.11,67.48 496.33,65.44 497.54,63.41 498.76,61.40 499.98,59.41 501.20,57.43 502.42,55.48 503.64,53.55 504.86,51.65 506.08,49.77 507.30,47.92 508.52,46.10 509.74,44.31 510.95,42.55 512.17,40.82 513.39,39.14 514.61,37.48 515.83,35.87 517.05,34.29 518.27,32.75 519.49,31.26 520.71,29.80 521.92,28.39 523.14,27.02 524.36,25.70 525.58,24.42 526.80,23.19 528.02,22.00 529.24,20.86 530.46,19.77 531.68,18.73 532.90,17.74 534.12,16.80 535.33,15.90 536.55,15.06 537.77,14.27 538.99,13.53 540.21,12.84 541.43,12.20 542.65,11.62 543.87,11.09 545.09,10.60 546.30,10.17 547.52,9.79 548.74,9.47 549.96,9.19 551.18,8.97 552.40,8.79 553.62,8.67 554.84,8.60 556.06,8.58 557.28,8.61 558.50,8.68 559.71,8.81 560.93,8.98 562.15,9.21 563.37,9.48 564.59,9.79 565.81,10.16 567.03,10.56 568.25,11.02 569.47,11.51 570.68,12.05 571.90,12.63 573.12,13.26 574.34,13.92 575.56,14.63 576.78,15.37 578.00,16.15 579.22,16.97 580.44,17.82 581.66,18.71 582.88,19.63 584.09,20.59 585.31,21.57 586.53,22.59 587.75,23.63 588.97,24.71 590.19,25.81 591.41,26.94 592.63,28.09 593.85,29.26 595.06,30.46 596.28,31.68 597.50,32.91 598.72,34.17 599.94,35.44 601.16,36.73 602.38,38.03 603.60,39.35 604.82,40.67 606.04,42.01 607.25,43.35 608.47,44.71 609.69,46.06 610.91,47.43 612.13,48.79 613.35,50.16 614.57,51.53 615.79,52.90 617.01,54.27 618.23,55.63 619.44,56.99 620.66,58.34 621.88,59.68 623.10,61.02 624.32,62.34 625.54,63.65 626.76,64.95 627.98,66.24 629.20,67.51 630.42,68.76 631.63,70.00 632.85,71.22 634.07,72.41 635.29,73.59 636.51,74.74 637.73,75.86 638.95,76.97 640.17,78.04 641.39,79.09 642.61,80.11 643.82,81.10 645.04,82.06 646.26,82.99 647.48,83.88 648.70,84.75 649.92,85.58 651.14,86.37 652.36,87.13 653.58,87.85 654.80,88.54 656.01,89.18 657.23,89.79 658.45,90.36 659.67,90.89 660.89,91.38 662.11,91.83 663.33,92.23 664.55,92.60 665.77,92.92 666.99,93.20 668.20,93.44 669.42,93.63 670.64,93.79 671.86,93.89 673.08,93.96 674.30,93.98" fill="none" stroke="#009e73" stroke-width="1.05" stroke-linejoin="round" clip-path="url(#c10)"/>
<polyline points="430.50,207.76 431.72,207.73 432.94,207.63 434.16,207.46 435.38,207.22 436.60,206.91 437.81,206.54 439.03,206.10 440.25,205.60 441.47,205.03 442.69,204.40 443.91,203.70 445.13,202.94 446.35,202.12 447.57,201.24 448.78,200.30 450.00,199.30 451.22,198.24 452.44,197.13 453.66,195.96 454.88,194.74 456.10,193.47 457.32,192.15 458.54,190.79 459.76,189.37 460.98,187.91 462.19,186.41 463.41,184.87 464.63,183.29 465.85,181.68 467.07,180.02 468.29,178.34 469.51,176.62 470.73,174.88 471.95,173.10 473.16,171.31 474.38,169.49 475.60,167.64 476.82,165.78 478.04,163.91 479.26,162.01 480.48,160.11 481.70,158.19 482.92,156.27 484.14,154.33 485.36,152.40 486.57,150.46 487.79,148.52 489.01,146.58 490.23,144.64 491.45,142.71 492.67,140.79 493.89,138.87 495.11,136.97 496.33,135.08 497.54,133.20 498.76,131.34 499.98,129.49 501.20,127.66 502.42,125.86 503.64,124.08 504.86,122.32 506.08,120.58 507.30,118.87 508.52,117.19 509.74,115.54 510.95,113.92 512.17,112.34 513.39,110.78 514.61,109.26 515.83,107.78 517.05,106.33 518.27,104.92 519.49,103.55 520.71,102.22 521.92,100.93 523.14,99.68 524.36,98.47 525.58,97.31 526.80,96.19 528.02,95.11 529.24,94.08 530.46,93.09 531.68,92.15 532.90,91.26 534.12,90.41 535.33,89.61 536.55,88.86 537.77,88.15 538.99,87.49 540.21,86.89 541.43,86.33 542.65,85.82 543.87,85.35 545.09,84.94 546.30,84.57 547.52,84.26 548.74,83.99 549.96,83.77 551.18,83.60 552.40,83.47 553.62,83.40 554.84,83.37 556.06,83.39 557.28,83.45 558.50,83.56 559.71,83.72 560.93,83.92 562.15,84.17 563.37,84.46 564.59,84.80 565.81,85.18 567.03,85.60 568.25,86.06 569.47,86.57 570.68,87.11 571.90,87.69 573.12,88.32 574.34,88.98 575.56,89.67 576.78,90.41 578.00,91.18 579.22,91.98 580.44,92.82 581.66,93.69 582.88,94.59 584.09,95.52 585.31,96.48 586.53,97.46 587.75,98.48 588.97,99.52 590.19,100.59 591.41,101.68 592.63,102.79 593.85,103.93 595.06,105.08 596.28,106.26 597.50,107.45 598.72,108.66 599.94,109.88 601.16,111.12 602.38,112.37 603.60,113.63 604.82,114.90 606.04,116.19 607.25,117.48 608.47,118.77 609.69,120.08 610.91,121.38 612.13,122.69 613.35,124.00 614.57,125.31 615.79,126.62 617.01,127.92 618.23,129.23 619.44,130.52 620.66,131.82 621.88,133.10 623.10,134.37 624.32,135.64 625.54,136.89 626.76,138.13 627.98,139.36 629.20,140.57 630.42,141.76 631.63,142.94 632.85,144.10 634.07,145.24 635.29,146.36 636.51,147.45 637.73,148.53 638.95,149.58 640.17,150.60 641.39,151.60 642.61,152.57 643.82,153.51 645.04,154.43 646.26,155.31 647.48,156.16 648.70,156.99 649.92,157.77 651.14,158.53 652.36,159.25 653.58,159.94 654.80,160.59 656.01,161.20 657.23,161.78 658.45,162.32 659.67,162.83 660.89,163.29 662.11,163.72 663.33,164.10 664.55,164.45 665.77,164.76 666.99,165.03 668.20,165.25 669.42,165.44 670.64,165.58 671.86,165.68 673.08,165.75 674.30,165.77" fill="none" stroke="#56b4e9" stroke-width="1.05" stroke-linejoin="round" clip-path="url(#c10)"/>
<rect x="430.50" y="7.50" width="243.80" height="298.90" fill="none" stroke="#000" stroke-width="1.0"/>
<line x1="471.13" y1="306.40" x2="471.13" y2="295.80" stroke="#000" stroke-width="1.0"/>
<line x1="471.13" y1="7.50" x2="471.13" y2="18.10" stroke="#000" stroke-width="1.0"/>
<line x1="511.77" y1="306.40" x2="511.77" y2="295.80" stroke="#000" stroke-width="1.0"/>
<line x1="511.77" y1="7.50" x2="511.77" y2="18.10" stroke="#000" stroke-width="1.0"/>
<line x1="552.40" y1="306.40" x2="552.40" y2="295.80" stroke="#000" stroke-width="1.0"/>
<line x1="552.40" y1="7.50" x2="552.40" y2="18.10" stroke="#000" stroke-width="1.0"/>
<line x1="593.03" y1="306.40" x2="593.03" y2="295.80" stroke="#000" stroke-width="1.0"/>
<line x1="593.03" y1="7.50" x2="593.03" y2="18.10" stroke="#000" stroke-width="1.0"/>
<line x1="633.67" y1="306.40" x2="633.67" y2="295.80" stroke="#000" stroke-width="1.0"/>
<line x1="633.67" y1="7.50" x2="633.67" y2="18.10" stroke="#000" stroke-width="1.0"/>
<line x1="430.50" y1="206.77" x2="441.10" y2="206.77" stroke="#000" stroke-width="1.0"/>
<line x1="674.30" y1="206.77" x2="663.70" y2="206.77" stroke="#000" stroke-width="1.0"/>
<line x1="430.50" y1="107.13" x2="441.10" y2="107.13" stroke="#000" stroke-width="1.0"/>
<line x1="674.30" y1="107.13" x2="663.70" y2="107.13" stroke="#000" stroke-width="1.0"/>
<text x="418.00" y="313.60" font-size="22.2" text-anchor="end">160</text>
<text x="418.00" y="213.97" font-size="22.2" text-anchor="end">180</text>
<text x="418.00" y="114.33" font-size="22.2" text-anchor="end">200</text>
<text x="418.00" y="14.70" font-size="22.2" text-anchor="end">220</text>
<polyline points="430.50,347.65 431.72,351.80 432.94,355.95 434.16,360.09 435.38,364.22 436.60,368.34 437.81,372.45 439.03,376.54 440.25,380.61 441.47,384.67 442.69,388.70 443.91,392.71 445.13,396.70 446.35,400.67 447.57,404.60 448.78,408.51 450.00,412.39 451.22,416.24 452.44,420.05 453.66,423.83 454.88,427.58 456.10,431.28 457.32,434.95 458.54,438.58 459.76,442.17 460.98,445.72 462.19,449.23 463.41,452.69 464.63,456.11 465.85,459.48 467.07,462.81 468.29,466.09 469.51,469.32 470.73,472.50 471.95,475.63 473.16,478.72 474.38,481.75 475.60,484.73 476.82,487.66 478.04,490.54 479.26,493.37 480.48,496.14 481.70,498.86 482.92,501.52 484.14,504.13 485.35,506.69 486.57,509.19 487.79,511.64 489.01,514.03 490.23,516.37 491.45,518.66 492.67,520.88 493.89,523.06 495.11,525.17 496.33,527.23 497.54,529.24 498.76,531.19 499.98,533.09 501.20,534.93 502.42,536.71 503.64,538.44 504.86,540.12 506.08,541.74 507.30,543.31 508.52,544.82 509.74,546.27 510.95,547.68 512.17,549.02 513.39,550.32 514.61,551.56 515.83,552.75 517.05,553.88 518.27,554.96 519.49,555.99 520.71,556.96 521.92,557.89 523.14,558.76 524.36,559.57 525.58,560.34 526.80,561.05 528.02,561.72 529.24,562.33 530.46,562.89 531.68,563.40 532.90,563.86 534.12,564.27 535.33,564.63 536.55,564.94 537.77,565.20 538.99,565.41 540.21,565.57 541.43,565.68 542.65,565.74 543.87,565.76 545.09,565.73 546.30,565.64 547.52,565.52 548.74,565.34 549.96,565.11 551.18,564.84 552.40,564.52 553.62,564.16 554.84,563.74 556.06,563.29 557.28,562.78 558.50,562.23 559.71,561.63 560.93,560.99 562.15,560.30 563.37,559.57 564.59,558.79 565.81,557.96 567.03,557.10 568.25,556.18 569.47,555.23 570.68,554.22 571.90,553.18 573.12,552.09 574.34,550.95 575.56,549.78 576.78,548.56 578.00,547.29 579.22,545.99 580.44,544.64 581.66,543.24 582.88,541.81 584.09,540.33 585.31,538.81 586.53,537.25 587.75,535.65 588.97,534.01 590.19,532.32 591.41,530.60 592.63,528.83 593.85,527.02 595.06,525.18 596.28,523.29 597.50,521.36 598.72,519.40 599.94,517.39 601.16,515.35 602.38,513.26 603.60,511.14 604.82,508.98 606.04,506.78 607.25,504.55 608.47,502.27 609.69,499.96 610.91,497.62 612.13,495.24 613.35,492.82 614.57,490.36 615.79,487.88 617.01,485.35 618.23,482.80 619.44,480.20 620.66,477.58 621.88,474.92 623.10,472.23 624.32,469.51 625.54,466.76 626.76,463.97 627.98,461.16 629.20,458.32 630.42,455.44 631.63,452.54 632.85,449.61 634.07,446.65 635.29,443.67 636.51,440.66 637.73,437.62 638.95,434.56 640.17,431.47 641.39,428.36 642.61,425.23 643.82,422.07 645.04,418.90 646.26,415.70 647.48,412.48 648.70,409.24 649.92,405.99 651.14,402.72 652.36,399.43 653.58,396.12 654.80,392.80 656.01,389.46 657.23,386.12 658.45,382.75 659.67,379.38 660.89,376.00 662.11,372.60 663.33,369.20 664.55,365.79 665.77,362.37 666.99,358.94 668.20,355.51 669.42,352.07 670.64,348.63 671.86,345.19 673.08,341.75 674.30,338.30" fill="none" stroke="#9400d3" stroke-width="1.05" stroke-linejoin="round" clip-path="url(#c11)"/>
<polyline points="430.50,347.71 431.72,351.89 432.94,356.06 434.16,360.23 435.38,364.39 436.60,368.53 437.81,372.67 439.03,376.79 440.25,380.89 441.47,384.97 442.69,389.03 443.91,393.07 445.13,397.09 446.35,401.08 447.57,405.04 448.78,408.98 450.00,412.88 451.22,416.76 452.44,420.60 453.66,424.41 454.88,428.18 456.10,431.92 457.32,435.62 458.54,439.27 459.76,442.89 460.98,446.47 462.19,450.00 463.41,453.50 464.63,456.94 465.85,460.34 467.07,463.70 468.29,467.01 469.51,470.27 470.73,473.48 471.95,476.64 473.16,479.76 474.38,482.82 475.60,485.83 476.82,488.79 478.04,491.70 479.26,494.55 480.48,497.36 481.70,500.10 482.92,502.80 484.14,505.44 485.35,508.03 486.57,510.56 487.79,513.04 489.01,515.46 490.23,517.83 491.45,520.14 492.67,522.40 493.89,524.60 495.11,526.75 496.33,528.84 497.54,530.88 498.76,532.86 499.98,534.79 501.20,536.66 502.42,538.47 503.64,540.23 504.86,541.94 506.08,543.59 507.30,545.19 508.52,546.73 509.74,548.21 510.95,549.64 512.17,551.02 513.39,552.34 514.61,553.61 515.83,554.83 517.05,555.99 518.27,557.10 519.49,558.16 520.71,559.16 521.92,560.11 523.14,561.01 524.36,561.85 525.58,562.65 526.80,563.39 528.02,564.08 529.24,564.71 530.46,565.30 531.68,565.84 532.90,566.32 534.12,566.76 535.33,567.14 536.55,567.47 537.77,567.76 538.99,567.99 540.21,568.18 541.43,568.31 542.65,568.40 543.87,568.43 545.09,568.42 546.30,568.36 547.52,568.25 548.74,568.10 549.96,567.89 551.18,567.64 552.40,567.34 553.62,566.99 554.84,566.60 556.06,566.16 557.28,565.67 558.50,565.13 559.71,564.55 560.93,563.92 562.15,563.25 563.37,562.53 564.59,561.76 565.81,560.95 567.03,560.09 568.25,559.19 569.47,558.24 570.68,557.25 571.90,556.21 573.12,555.13 574.34,554.00 575.56,552.83 576.78,551.61 578.00,550.35 579.22,549.05 580.44,547.70 581.66,546.31 582.88,544.88 584.09,543.40 585.31,541.88 586.53,540.32 587.75,538.71 588.97,537.07 590.19,535.38 591.41,533.64 592.63,531.87 593.85,530.05 595.06,528.20 596.28,526.30 597.50,524.36 598.72,522.38 599.94,520.36 601.16,518.30 602.38,516.20 603.60,514.06 604.82,511.88 606.04,509.67 607.25,507.41 608.47,505.11 609.69,502.78 610.91,500.41 612.13,498.00 613.35,495.56 614.57,493.07 615.79,490.56 617.01,488.00 618.23,485.41 619.44,482.79 620.66,480.13 621.88,477.44 623.10,474.71 624.32,471.95 625.54,469.16 626.76,466.33 627.98,463.48 629.20,460.59 630.42,457.67 631.63,454.72 632.85,451.74 634.07,448.74 635.29,445.70 636.51,442.64 637.73,439.55 638.95,436.44 640.17,433.30 641.39,430.13 642.61,426.95 643.82,423.73 645.04,420.50 646.26,417.24 647.48,413.97 648.70,410.67 649.92,407.35 651.14,404.02 652.36,400.66 653.58,397.29 654.80,393.91 656.01,390.51 657.23,387.09 658.45,383.66 659.67,380.22 660.89,376.77 662.11,373.30 663.33,369.83 664.55,366.35 665.77,362.86 666.99,359.36 668.20,355.86 669.42,352.36 670.64,348.85 671.86,345.33 673.08,341.82 674.30,338.30" fill="none" stroke="#009e73" stroke-width="1.05" stroke-linejoin="round" clip-path="url(#c11)"/>
<polyline points="430.50,347.76 431.72,351.96 432.94,356.16 434.16,360.35 435.38,364.53 436.60,368.70 437.81,372.85 439.03,376.99 440.25,381.11 441.47,385.22 442.69,389.30 443.91,393.36 445.13,397.40 446.35,401.41 447.57,405.39 448.78,409.35 450.00,413.28 451.22,417.17 452.44,421.03 453.66,424.86 454.88,428.65 456.10,432.41 457.32,436.12 458.54,439.80 459.76,443.44 460.98,447.03 462.19,450.58 463.41,454.09 464.63,457.56 465.85,460.97 467.07,464.34 468.29,467.67 469.51,470.94 470.73,474.17 471.95,477.35 473.16,480.48 474.38,483.55 475.60,486.58 476.82,489.55 478.04,492.47 479.26,495.34 480.48,498.15 481.70,500.91 482.92,503.62 484.14,506.27 485.35,508.87 486.57,511.41 487.79,513.90 489.01,516.34 490.23,518.71 491.45,521.04 492.67,523.30 493.89,525.51 495.11,527.67 496.33,529.77 497.54,531.82 498.76,533.80 499.98,535.74 501.20,537.62 502.42,539.44 503.64,541.20 504.86,542.92 506.08,544.57 507.30,546.17 508.52,547.72 509.74,549.21 510.95,550.65 512.17,552.03 513.39,553.36 514.61,554.63 515.83,555.85 517.05,557.02 518.27,558.13 519.49,559.19 520.71,560.20 521.92,561.15 523.14,562.05 524.36,562.90 525.58,563.70 526.80,564.44 528.02,565.13 529.24,565.77 530.46,566.36 531.68,566.90 532.90,567.39 534.12,567.82 535.33,568.21 536.55,568.54 537.77,568.83 538.99,569.06 540.21,569.25 541.43,569.38 542.65,569.47 543.87,569.50 545.09,569.49 546.30,569.43 547.52,569.32 548.74,569.17 549.96,568.96 551.18,568.71 552.40,568.41 553.62,568.06 554.84,567.66 556.06,567.22 557.28,566.73 558.50,566.19 559.71,565.61 560.93,564.98 562.15,564.30 563.37,563.58 564.59,562.81 565.81,561.99 567.03,561.13 568.25,560.23 569.47,559.28 570.68,558.28 571.90,557.24 573.12,556.15 574.34,555.02 575.56,553.85 576.78,552.63 578.00,551.36 579.22,550.05 580.44,548.70 581.66,547.31 582.88,545.87 584.09,544.38 585.31,542.86 586.53,541.29 587.75,539.68 588.97,538.02 590.19,536.33 591.41,534.59 592.63,532.81 593.85,530.99 595.06,529.12 596.28,527.22 597.50,525.27 598.72,523.28 599.94,521.25 601.16,519.19 602.38,517.08 603.60,514.93 604.82,512.74 606.04,510.51 607.25,508.25 608.47,505.94 609.69,503.60 610.91,501.22 612.13,498.80 613.35,496.35 614.57,493.85 615.79,491.32 617.01,488.76 618.23,486.16 619.44,483.52 620.66,480.85 621.88,478.14 623.10,475.41 624.32,472.63 625.54,469.83 626.76,466.99 627.98,464.12 629.20,461.22 630.42,458.29 631.63,455.32 632.85,452.33 634.07,449.31 635.29,446.26 636.51,443.19 637.73,440.08 638.95,436.95 640.17,433.80 641.39,430.62 642.61,427.41 643.82,424.18 645.04,420.93 646.26,417.66 647.48,414.36 648.70,411.05 649.92,407.72 651.14,404.36 652.36,400.99 653.58,397.60 654.80,394.20 656.01,390.78 657.23,387.35 658.45,383.90 659.67,380.44 660.89,376.97 662.11,373.49 663.33,370.00 664.55,366.50 665.77,362.99 666.99,359.48 668.20,355.96 669.42,352.43 670.64,348.90 671.86,345.37 673.08,341.84 674.30,338.30" fill="none" stroke="#56b4e9" stroke-width="1.05" stroke-linejoin="round" clip-path="url(#c11)"/>
<rect x="430.50" y="338.30" width="243.80" height="267.60" fill="none" stroke="#000" stroke-width="1.0"/>
<line x1="468.85" y1="605.90" x2="468.85" y2="595.30" stroke="#000" stroke-width="1.0"/>
<line x1="468.85" y1="338.30" x2="468.85" y2="348.90" stroke="#000" stroke-width="1.0"/>
<line x1="509.94" y1="605.90" x2="509.94" y2="595.30" stroke="#000" stroke-width="1.0"/>
<line x1="509.94" y1="338.30" x2="509.94" y2="348.90" stroke="#000" stroke-width="1.0"/>
<line x1="551.03" y1="605.90" x2="551.03" y2="595.30" stroke="#000" stroke-width="1.0"/>
<line x1="551.03" y1="338.30" x2="551.03" y2="348.90" stroke="#000" stroke-width="1.0"/>
<line x1="592.12" y1="605.90" x2="592.12" y2="595.30" stroke="#000" stroke-width="1.0"/>
<line x1="592.12" y1="338.30" x2="592.12" y2="348.90" stroke="#000" stroke-width="1.0"/>
<line x1="633.21" y1="605.90" x2="633.21" y2="595.30" stroke="#000" stroke-width="1.0"/>
<line x1="633.21" y1="338.30" x2="633.21" y2="348.90" stroke="#000" stroke-width="1.0"/>
<line x1="430.50" y1="516.70" x2="441.10" y2="516.70" stroke="#000" stroke-width="1.0"/>
<line x1="674.30" y1="516.70" x2="663.70" y2="516.70" stroke="#000" stroke-width="1.0"/>
<line x1="430.50" y1="427.50" x2="441.10" y2="427.50" stroke="#000" stroke-width="1.0"/>
<line x1="674.30" y1="427.50" x2="663.70" y2="427.50" stroke="#000" stroke-width="1.0"/>
<text x="418.00" y="613.10" font-size="22.2" text-anchor="end">60</text>
<text x="418.00" y="523.90" font-size="22.2" text-anchor="end">70</text>
<text x="418.00" y="434.70" font-size="22.2" text-anchor="end">80</text>
<text x="418.00" y="345.50" font-size="22.2" text-anchor="end">90</text>
<text x="468.85" y="640.00" font-size="22.2" text-anchor="middle">15</text>
<text x="509.94" y="640.00" font-size="22.2" text-anchor="middle">30</text>
<text x="551.03" y="640.00" font-size="22.2" text-anchor="middle">45</text>
<text x="592.12" y="640.00" font-size="22.2" text-anchor="middle">60</text>
<text x="633.21" y="640.00" font-size="22.2" text-anchor="middle">75</text>
<text x="674.30" y="640.00" font-size="22.2" text-anchor="middle">90</text>
<text transform="translate(522.15,680.1) scale(1.13,1)" font-size="28.8" font-style="italic">α</text>
<text transform="translate(548.28,680.6) scale(0.85,1)" font-size="36">(</text>
<text x="558.40" y="677.9" font-size="27.5">°</text>
<text transform="translate(571.18,680.6) scale(0.85,1)" font-size="36">)</text>
<polyline points="746.20,220.04 747.42,220.00 748.64,219.86 749.86,219.63 751.08,219.31 752.30,218.90 753.51,218.40 754.73,217.81 755.95,217.13 757.17,216.36 758.39,215.51 759.61,214.58 760.83,213.56 762.05,212.47 763.27,211.29 764.49,210.04 765.70,208.72 766.92,207.32 768.14,205.85 769.36,204.32 770.58,202.72 771.80,201.06 773.02,199.35 774.24,197.57 775.46,195.75 776.68,193.87 777.89,191.94 779.11,189.97 780.33,187.96 781.55,185.92 782.77,183.84 783.99,181.72 785.21,179.58 786.43,177.41 787.65,175.22 788.87,173.02 790.08,170.79 791.30,168.56 792.52,166.31 793.74,164.06 794.96,161.81 796.18,159.55 797.40,157.30 798.62,155.06 799.84,152.82 801.06,150.60 802.27,148.39 803.49,146.20 804.71,144.03 805.93,141.88 807.15,139.75 808.37,137.66 809.59,135.60 810.81,133.57 812.03,131.57 813.25,129.61 814.46,127.70 815.68,125.82 816.90,123.99 818.12,122.21 819.34,120.47 820.56,118.79 821.78,117.15 823.00,115.57 824.22,114.05 825.44,112.58 826.65,111.17 827.87,109.82 829.09,108.53 830.31,107.30 831.53,106.14 832.75,105.04 833.97,104.01 835.19,103.04 836.41,102.14 837.62,101.31 838.84,100.55 840.06,99.86 841.28,99.24 842.50,98.70 843.72,98.22 844.94,97.82 846.16,97.49 847.38,97.23 848.60,97.04 849.82,96.93 851.03,96.89 852.25,96.93 853.47,97.04 854.69,97.22 855.91,97.48 857.13,97.81 858.35,98.21 859.57,98.69 860.79,99.24 862.00,99.86 863.22,100.55 864.44,101.31 865.66,102.15 866.88,103.05 868.10,104.03 869.32,105.07 870.54,106.18 871.76,107.36 872.98,108.61 874.20,109.92 875.41,111.29 876.63,112.73 877.85,114.24 879.07,115.80 880.29,117.43 881.51,119.12 882.73,120.86 883.95,122.66 885.17,124.52 886.38,126.43 887.60,128.40 888.82,130.42 890.04,132.49 891.26,134.61 892.48,136.78 893.70,139.00 894.92,141.26 896.14,143.56 897.36,145.91 898.58,148.30 899.79,150.73 901.01,153.19 902.23,155.69 903.45,158.22 904.67,160.79 905.89,163.39 907.11,166.01 908.33,168.67 909.55,171.35 910.76,174.05 911.98,176.77 913.20,179.51 914.42,182.27 915.64,185.05 916.86,187.84 918.08,190.64 919.30,193.45 920.52,196.27 921.74,199.10 922.96,201.93 924.17,204.76 925.39,207.59 926.61,210.42 927.83,213.24 929.05,216.06 930.27,218.87 931.49,221.66 932.71,224.45 933.93,227.21 935.14,229.96 936.36,232.70 937.58,235.40 938.80,238.09 940.02,240.75 941.24,243.38 942.46,245.98 943.68,248.55 944.90,251.08 946.12,253.58 947.34,256.04 948.55,258.45 949.77,260.82 950.99,263.15 952.21,265.43 953.43,267.66 954.65,269.84 955.87,271.97 957.09,274.04 958.31,276.06 959.52,278.01 960.74,279.91 961.96,281.74 963.18,283.51 964.40,285.21 965.62,286.85 966.84,288.41 968.06,289.91 969.28,291.33 970.50,292.68 971.72,293.95 972.93,295.15 974.15,296.27 975.37,297.32 976.59,298.28 977.81,299.16 979.03,299.96 980.25,300.68 981.47,301.32 982.69,301.87 983.90,302.34 985.12,302.73 986.34,303.03 987.56,303.24 988.78,303.37 990.00,303.41" fill="none" stroke="#9400d3" stroke-width="1.05" stroke-linejoin="round" clip-path="url(#c20)"/>
<polyline points="746.20,177.33 747.42,177.28 748.64,177.13 749.86,176.89 751.08,176.55 752.30,176.11 753.51,175.58 754.73,174.96 755.95,174.24 757.17,173.43 758.39,172.53 759.61,171.54 760.83,170.47 762.05,169.30 763.27,168.06 764.49,166.73 765.70,165.33 766.92,163.84 768.14,162.29 769.36,160.66 770.58,158.96 771.80,157.19 773.02,155.37 774.24,153.48 775.46,151.53 776.68,149.53 777.89,147.47 779.11,145.37 780.33,143.22 781.55,141.03 782.77,138.80 783.99,136.54 785.21,134.24 786.43,131.91 787.65,129.56 788.87,127.19 790.08,124.79 791.30,122.38 792.52,119.96 793.74,117.52 794.96,115.08 796.18,112.64 797.40,110.20 798.62,107.76 799.84,105.32 801.06,102.90 802.27,100.48 803.49,98.08 804.71,95.70 805.93,93.34 807.15,91.00 808.37,88.69 809.59,86.41 810.81,84.16 812.03,81.94 813.25,79.76 814.46,77.61 815.68,75.51 816.90,73.45 818.12,71.43 819.34,69.46 820.56,67.54 821.78,65.67 823.00,63.85 824.22,62.09 825.44,60.38 826.65,58.74 827.87,57.15 829.09,55.62 830.31,54.15 831.53,52.75 832.75,51.41 833.97,50.14 835.19,48.93 836.41,47.79 837.62,46.72 838.84,45.72 840.06,44.79 841.28,43.94 842.50,43.15 843.72,42.44 844.94,41.80 846.16,41.23 847.38,40.74 848.60,40.32 849.82,39.98 851.03,39.71 852.25,39.52 853.47,39.40 854.69,39.36 855.91,39.39 857.13,39.50 858.35,39.68 859.57,39.94 860.79,40.27 862.00,40.67 863.22,41.15 864.44,41.70 865.66,42.33 866.88,43.02 868.10,43.79 869.32,44.63 870.54,45.54 871.76,46.52 872.98,47.57 874.20,48.68 875.41,49.87 876.63,51.11 877.85,52.43 879.07,53.81 880.29,55.25 881.51,56.75 882.73,58.32 883.95,59.94 885.17,61.63 886.38,63.37 887.60,65.16 888.82,67.02 890.04,68.92 891.26,70.88 892.48,72.88 893.70,74.94 894.92,77.05 896.14,79.20 897.36,81.39 898.58,83.63 899.79,85.91 901.01,88.23 902.23,90.58 903.45,92.97 904.67,95.40 905.89,97.86 907.11,100.35 908.33,102.87 909.55,105.42 910.76,107.99 911.98,110.59 913.20,113.20 914.42,115.84 915.64,118.49 916.86,121.16 918.08,123.85 919.30,126.54 920.52,129.25 921.74,131.96 922.96,134.68 924.17,137.40 925.39,140.12 926.61,142.84 927.83,145.56 929.05,148.27 930.27,150.98 931.49,153.68 932.71,156.36 933.93,159.03 935.14,161.69 936.36,164.32 937.58,166.94 938.80,169.53 940.02,172.10 941.24,174.65 942.46,177.16 943.68,179.64 944.90,182.09 946.12,184.51 947.34,186.89 948.55,189.22 949.77,191.52 950.99,193.77 952.21,195.98 953.43,198.14 954.65,200.25 955.87,202.31 957.09,204.32 958.31,206.27 959.52,208.16 960.74,209.99 961.96,211.77 963.18,213.48 964.40,215.13 965.62,216.71 966.84,218.23 968.06,219.67 969.28,221.05 970.50,222.36 971.72,223.59 972.93,224.75 974.15,225.84 975.37,226.85 976.59,227.78 977.81,228.63 979.03,229.41 980.25,230.11 981.47,230.72 982.69,231.26 983.90,231.71 985.12,232.08 986.34,232.37 987.56,232.58 988.78,232.70 990.00,232.75" fill="none" stroke="#009e73" stroke-width="1.05" stroke-linejoin="round" clip-path="url(#c20)"/>
<polyline points="746.20,206.37 747.42,206.31 748.64,206.14 749.86,205.86 751.08,205.47 752.30,204.97 753.51,204.36 754.73,203.64 755.95,202.81 757.17,201.87 758.39,200.83 759.61,199.69 760.83,198.45 762.05,197.11 763.27,195.68 764.49,194.15 765.70,192.53 766.92,190.82 768.14,189.02 769.36,187.15 770.58,185.19 771.80,183.16 773.02,181.06 774.24,178.88 775.46,176.65 776.68,174.34 777.89,171.98 779.11,169.57 780.33,167.10 781.55,164.58 782.77,162.02 783.99,159.42 785.21,156.79 786.43,154.12 787.65,151.42 788.87,148.69 790.08,145.95 791.30,143.18 792.52,140.40 793.74,137.61 794.96,134.81 796.18,132.01 797.40,129.21 798.62,126.41 799.84,123.62 801.06,120.83 802.27,118.06 803.49,115.31 804.71,112.58 805.93,109.86 807.15,107.18 808.37,104.52 809.59,101.89 810.81,99.30 812.03,96.74 813.25,94.22 814.46,91.75 815.68,89.31 816.90,86.93 818.12,84.59 819.34,82.30 820.56,80.07 821.78,77.89 823.00,75.77 824.22,73.71 825.44,71.71 826.65,69.77 827.87,67.89 829.09,66.08 830.31,64.33 831.53,62.66 832.75,61.05 833.97,59.51 835.19,58.05 836.41,56.66 837.62,55.34 838.84,54.09 840.06,52.92 841.28,51.83 842.50,50.81 843.72,49.88 844.94,49.01 846.16,48.23 847.38,47.53 848.60,46.90 849.82,46.35 851.03,45.89 852.25,45.50 853.47,45.19 854.69,44.96 855.91,44.81 857.13,44.74 858.35,44.75 859.57,44.83 860.79,45.00 862.00,45.24 863.22,45.56 864.44,45.95 865.66,46.43 866.88,46.98 868.10,47.60 869.32,48.30 870.54,49.07 871.76,49.91 872.98,50.83 874.20,51.82 875.41,52.87 876.63,54.00 877.85,55.20 879.07,56.46 880.29,57.79 881.51,59.18 882.73,60.63 883.95,62.15 885.17,63.73 886.38,65.37 887.60,67.07 888.82,68.82 890.04,70.63 891.26,72.50 892.48,74.41 893.70,76.38 894.92,78.40 896.14,80.46 897.36,82.57 898.58,84.73 899.79,86.93 901.01,89.17 902.23,91.45 903.45,93.76 904.67,96.12 905.89,98.50 907.11,100.92 908.33,103.37 909.55,105.85 910.76,108.36 911.98,110.89 913.20,113.44 914.42,116.01 915.64,118.60 916.86,121.21 918.08,123.83 919.30,126.47 920.52,129.11 921.74,131.77 922.96,134.43 924.17,137.09 925.39,139.76 926.61,142.43 927.83,145.09 929.05,147.75 930.27,150.41 931.49,153.05 932.71,155.69 933.93,158.31 935.14,160.92 936.36,163.51 937.58,166.08 938.80,168.62 940.02,171.15 941.24,173.65 942.46,176.12 943.68,178.56 944.90,180.97 946.12,183.34 947.34,185.68 948.55,187.97 949.77,190.23 950.99,192.45 952.21,194.62 953.43,196.74 954.65,198.82 955.87,200.84 957.09,202.81 958.31,204.73 959.52,206.59 960.74,208.40 961.96,210.14 963.18,211.83 964.40,213.45 965.62,215.00 966.84,216.50 968.06,217.92 969.28,219.27 970.50,220.56 971.72,221.77 972.93,222.91 974.15,223.98 975.37,224.98 976.59,225.89 977.81,226.73 979.03,227.50 980.25,228.18 981.47,228.79 982.69,229.31 983.90,229.76 985.12,230.13 986.34,230.41 987.56,230.62 988.78,230.74 990.00,230.78" fill="none" stroke="#56b4e9" stroke-width="1.05" stroke-linejoin="round" clip-path="url(#c20)"/>
<rect x="746.20" y="7.50" width="243.80" height="298.90" fill="none" stroke="#000" stroke-width="1.0"/>
<line x1="786.83" y1="306.40" x2="786.83" y2="295.80" stroke="#000" stroke-width="1.0"/>
<line x1="786.83" y1="7.50" x2="786.83" y2="18.10" stroke="#000" stroke-width="1.0"/>
<line x1="827.47" y1="306.40" x2="827.47" y2="295.80" stroke="#000" stroke-width="1.0"/>
<line x1="827.47" y1="7.50" x2="827.47" y2="18.10" stroke="#000" stroke-width="1.0"/>
<line x1="868.10" y1="306.40" x2="868.10" y2="295.80" stroke="#000" stroke-width="1.0"/>
<line x1="868.10" y1="7.50" x2="868.10" y2="18.10" stroke="#000" stroke-width="1.0"/>
<line x1="908.73" y1="306.40" x2="908.73" y2="295.80" stroke="#000" stroke-width="1.0"/>
<line x1="908.73" y1="7.50" x2="908.73" y2="18.10" stroke="#000" stroke-width="1.0"/>
<line x1="949.37" y1="306.40" x2="949.37" y2="295.80" stroke="#000" stroke-width="1.0"/>
<line x1="949.37" y1="7.50" x2="949.37" y2="18.10" stroke="#000" stroke-width="1.0"/>
<line x1="746.20" y1="256.58" x2="756.80" y2="256.58" stroke="#000" stroke-width="1.0"/>
<line x1="990.00" y1="256.58" x2="979.40" y2="256.58" stroke="#000" stroke-width="1.0"/>
<line x1="746.20" y1="206.77" x2="756.80" y2="206.77" stroke="#000" stroke-width="1.0"/>
<line x1="990.00" y1="206.77" x2="979.40" y2="206.77" stroke="#000" stroke-width="1.0"/>
<line x1="746.20" y1="156.95" x2="756.80" y2="156.95" stroke="#000" stroke-width="1.0"/>
<line x1="990.00" y1="156.95" x2="979.40" y2="156.95" stroke="#000" stroke-width="1.0"/>
<line x1="746.20" y1="107.13" x2="756.80" y2="107.13" stroke="#000" stroke-width="1.0"/>
<line x1="990.00" y1="107.13" x2="979.40" y2="107.13" stroke="#000" stroke-width="1.0"/>
<line x1="746.20" y1="57.32" x2="756.80" y2="57.32" stroke="#000" stroke-width="1.0"/>
<line x1="990.00" y1="57.32" x2="979.40" y2="57.32" stroke="#000" stroke-width="1.0"/>
<text x="733.70" y="313.60" font-size="22.2" text-anchor="end">260</text>
<text x="733.70" y="263.78" font-size="22.2" text-anchor="end">280</text>
<text x="733.70" y="213.97" font-size="22.2" text-anchor="end">300</text>
<text x="733.70" y="164.15" font-size="22.2" text-anchor="end">320</text>
<text x="733.70" y="114.33" font-size="22.2" text-anchor="end">340</text>
<text x="733.70" y="64.52" font-size="22.2" text-anchor="end">360</text>
<text x="733.70" y="14.70" font-size="22.2" text-anchor="end">380</text>
<polyline points="746.20,348.47 747.42,352.99 748.64,357.49 749.86,361.99 751.08,366.48 752.30,370.95 753.51,375.40 754.73,379.83 755.95,384.24 757.17,388.63 758.39,392.99 759.61,397.31 760.83,401.61 762.05,405.88 763.27,410.11 764.49,414.30 765.70,418.46 766.92,422.57 768.14,426.64 769.36,430.67 770.58,434.66 771.80,438.60 773.02,442.49 774.24,446.33 775.46,450.12 776.68,453.86 777.89,457.55 779.11,461.18 780.33,464.77 781.55,468.29 782.77,471.77 783.99,475.18 785.21,478.54 786.43,481.85 787.65,485.09 788.87,488.28 790.08,491.41 791.30,494.49 792.52,497.50 793.74,500.46 794.96,503.35 796.18,506.19 797.40,508.97 798.62,511.69 799.84,514.36 801.06,516.96 802.27,519.51 803.49,521.99 804.71,524.42 805.93,526.79 807.15,529.11 808.37,531.37 809.59,533.57 810.81,535.71 812.03,537.80 813.25,539.83 814.46,541.80 815.68,543.72 816.90,545.59 818.12,547.40 819.34,549.15 820.56,550.85 821.78,552.50 823.00,554.10 824.22,555.64 825.44,557.13 826.65,558.57 827.87,559.95 829.09,561.29 830.31,562.57 831.53,563.81 832.75,564.99 833.97,566.12 835.19,567.21 836.41,568.24 837.62,569.23 838.84,570.17 840.06,571.05 841.28,571.90 842.50,572.69 843.72,573.44 844.94,574.14 846.16,574.79 847.38,575.39 848.60,575.95 849.82,576.47 851.03,576.94 852.25,577.36 853.47,577.74 854.69,578.07 855.91,578.35 857.13,578.60 858.35,578.79 859.57,578.95 860.79,579.06 862.00,579.12 863.22,579.14 864.44,579.12 865.66,579.05 866.88,578.94 868.10,578.78 869.32,578.58 870.54,578.34 871.76,578.05 872.98,577.72 874.20,577.35 875.41,576.93 876.63,576.47 877.85,575.96 879.07,575.41 880.29,574.82 881.51,574.18 882.73,573.50 883.95,572.78 885.17,572.01 886.38,571.19 887.60,570.34 888.82,569.43 890.04,568.49 891.26,567.50 892.48,566.46 893.70,565.38 894.92,564.26 896.14,563.08 897.36,561.87 898.58,560.61 899.79,559.30 901.01,557.95 902.23,556.55 903.45,555.10 904.67,553.61 905.89,552.07 907.11,550.49 908.33,548.86 909.55,547.18 910.76,545.45 911.98,543.68 913.20,541.86 914.42,539.99 915.64,538.07 916.86,536.11 918.08,534.10 919.30,532.04 920.52,529.93 921.74,527.77 922.96,525.56 924.17,523.31 925.39,521.00 926.61,518.65 927.83,516.25 929.05,513.80 930.27,511.30 931.49,508.75 932.71,506.15 933.93,503.51 935.14,500.81 936.36,498.07 937.58,495.28 938.80,492.44 940.02,489.55 941.24,486.61 942.46,483.63 943.68,480.60 944.90,477.52 946.12,474.40 947.34,471.23 948.55,468.02 949.77,464.76 950.99,461.45 952.21,458.11 953.43,454.72 954.65,451.28 955.87,447.81 957.09,444.29 958.31,440.74 959.52,437.15 960.74,433.51 961.96,429.85 963.18,426.14 964.40,422.40 965.62,418.63 966.84,414.82 968.06,410.98 969.28,407.12 970.50,403.22 971.72,399.30 972.93,395.35 974.15,391.38 975.37,387.39 976.59,383.37 977.81,379.34 979.03,375.28 980.25,371.22 981.47,367.13 982.69,363.04 983.90,358.93 985.12,354.82 986.34,350.69 987.56,346.57 988.78,342.43 990.00,338.30" fill="none" stroke="#9400d3" stroke-width="1.05" stroke-linejoin="round" clip-path="url(#c21)"/>
<polyline points="746.20,348.23 747.42,352.64 748.64,357.04 749.86,361.43 751.08,365.81 752.30,370.17 753.51,374.52 754.73,378.85 755.95,383.15 757.17,387.43 758.39,391.69 759.61,395.91 760.83,400.11 762.05,404.28 763.27,408.41 764.49,412.50 765.70,416.56 766.92,420.58 768.14,424.55 769.36,428.49 770.58,432.38 771.80,436.22 773.02,440.02 774.24,443.77 775.46,447.47 776.68,451.13 777.89,454.73 779.11,458.28 780.33,461.78 781.55,465.22 782.77,468.61 783.99,471.94 785.21,475.22 786.43,478.45 787.65,481.62 788.87,484.73 790.08,487.78 791.30,490.78 792.52,493.72 793.74,496.60 794.96,499.43 796.18,502.20 797.40,504.90 798.62,507.56 799.84,510.15 801.06,512.69 802.27,515.17 803.49,517.59 804.71,519.95 805.93,522.26 807.15,524.51 808.37,526.71 809.59,528.85 810.81,530.93 812.03,532.95 813.25,534.93 814.46,536.84 815.68,538.70 816.90,540.51 818.12,542.26 819.34,543.96 820.56,545.61 821.78,547.20 823.00,548.74 824.22,550.23 825.44,551.66 826.65,553.05 827.87,554.38 829.09,555.66 830.31,556.90 831.53,558.08 832.75,559.21 833.97,560.29 835.19,561.33 836.41,562.31 837.62,563.25 838.84,564.14 840.06,564.98 841.28,565.77 842.50,566.52 843.72,567.22 844.94,567.87 846.16,568.48 847.38,569.04 848.60,569.55 849.82,570.02 851.03,570.44 852.25,570.82 853.47,571.16 854.69,571.44 855.91,571.69 857.13,571.89 858.35,572.05 859.57,572.16 860.79,572.22 862.00,572.25 863.22,572.23 864.44,572.17 865.66,572.06 866.88,571.91 868.10,571.72 869.32,571.48 870.54,571.20 871.76,570.88 872.98,570.52 874.20,570.11 875.41,569.66 876.63,569.17 877.85,568.63 879.07,568.05 880.29,567.43 881.51,566.76 882.73,566.05 883.95,565.30 885.17,564.51 886.38,563.67 887.60,562.79 888.82,561.87 890.04,560.90 891.26,559.89 892.48,558.84 893.70,557.74 894.92,556.60 896.14,555.42 897.36,554.19 898.58,552.92 899.79,551.60 901.01,550.24 902.23,548.84 903.45,547.39 904.67,545.90 905.89,544.36 907.11,542.78 908.33,541.15 909.55,539.48 910.76,537.76 911.98,536.00 913.20,534.19 914.42,532.34 915.64,530.44 916.86,528.50 918.08,526.51 919.30,524.48 920.52,522.40 921.74,520.27 922.96,518.10 924.17,515.88 925.39,513.62 926.61,511.31 927.83,508.96 929.05,506.56 930.27,504.11 931.49,501.62 932.71,499.09 933.93,496.51 935.14,493.88 936.36,491.21 937.58,488.49 938.80,485.73 940.02,482.93 941.24,480.08 942.46,477.19 943.68,474.26 944.90,471.28 946.12,468.26 947.34,465.20 948.55,462.10 949.77,458.96 950.99,455.77 952.21,452.55 953.43,449.29 954.65,445.99 955.87,442.65 957.09,439.28 958.31,435.87 959.52,432.42 960.74,428.95 961.96,425.43 963.18,421.89 964.40,418.32 965.62,414.71 966.84,411.08 968.06,407.42 969.28,403.73 970.50,400.01 971.72,396.28 972.93,392.52 974.15,388.74 975.37,384.93 976.59,381.11 977.81,377.28 979.03,373.43 980.25,369.56 981.47,365.68 982.69,361.79 983.90,357.89 985.12,353.98 986.34,350.07 987.56,346.15 988.78,342.22 990.00,338.30" fill="none" stroke="#009e73" stroke-width="1.05" stroke-linejoin="round" clip-path="url(#c21)"/>
<polyline points="746.20,348.91 747.42,353.62 748.64,358.32 749.86,363.01 751.08,367.69 752.30,372.34 753.51,376.98 754.73,381.59 755.95,386.18 757.17,390.74 758.39,395.27 759.61,399.76 760.83,404.22 762.05,408.65 763.27,413.03 764.49,417.37 765.70,421.66 766.92,425.91 768.14,430.12 769.36,434.27 770.58,438.37 771.80,442.42 773.02,446.42 774.24,450.36 775.46,454.24 776.68,458.07 777.89,461.84 779.11,465.55 780.33,469.20 781.55,472.79 782.77,476.32 783.99,479.78 785.21,483.19 786.43,486.53 787.65,489.81 788.87,493.02 790.08,496.17 791.30,499.26 792.52,502.28 793.74,505.24 794.96,508.13 796.18,510.96 797.40,513.73 798.62,516.44 799.84,519.08 801.06,521.65 802.27,524.17 803.49,526.62 804.71,529.01 805.93,531.34 807.15,533.60 808.37,535.81 809.59,537.95 810.81,540.03 812.03,542.06 813.25,544.02 814.46,545.93 815.68,547.78 816.90,549.57 818.12,551.30 819.34,552.97 820.56,554.59 821.78,556.15 823.00,557.66 824.22,559.11 825.44,560.51 826.65,561.85 827.87,563.14 829.09,564.38 830.31,565.56 831.53,566.69 832.75,567.77 833.97,568.80 835.19,569.78 836.41,570.70 837.62,571.58 838.84,572.41 840.06,573.18 841.28,573.91 842.50,574.59 843.72,575.23 844.94,575.81 846.16,576.35 847.38,576.84 848.60,577.28 849.82,577.68 851.03,578.03 852.25,578.33 853.47,578.59 854.69,578.80 855.91,578.97 857.13,579.09 858.35,579.17 859.57,579.21 860.79,579.19 862.00,579.14 863.22,579.04 864.44,578.90 865.66,578.71 866.88,578.48 868.10,578.21 869.32,577.89 870.54,577.53 871.76,577.13 872.98,576.68 874.20,576.19 875.41,575.66 876.63,575.08 877.85,574.46 879.07,573.80 880.29,573.10 881.51,572.35 882.73,571.56 883.95,570.73 885.17,569.85 886.38,568.93 887.60,567.97 888.82,566.97 890.04,565.92 891.26,564.83 892.48,563.69 893.70,562.51 894.92,561.29 896.14,560.03 897.36,558.72 898.58,557.37 899.79,555.97 901.01,554.54 902.23,553.05 903.45,551.52 904.67,549.95 905.89,548.34 907.11,546.68 908.33,544.97 909.55,543.23 910.76,541.43 911.98,539.60 913.20,537.71 914.42,535.79 915.64,533.81 916.86,531.80 918.08,529.74 919.30,527.63 920.52,525.48 921.74,523.28 922.96,521.04 924.17,518.75 925.39,516.42 926.61,514.04 927.83,511.62 929.05,509.15 930.27,506.64 931.49,504.08 932.71,501.48 933.93,498.83 935.14,496.14 936.36,493.40 937.58,490.63 938.80,487.80 940.02,484.94 941.24,482.03 942.46,479.08 943.68,476.08 944.90,473.05 946.12,469.97 947.34,466.85 948.55,463.69 949.77,460.49 950.99,457.25 952.21,453.98 953.43,450.66 954.65,447.31 955.87,443.92 957.09,440.49 958.31,437.03 959.52,433.53 960.74,430.00 961.96,426.44 963.18,422.85 964.40,419.23 965.62,415.58 966.84,411.89 968.06,408.19 969.28,404.45 970.50,400.69 971.72,396.91 972.93,393.11 974.15,389.28 975.37,385.44 976.59,381.57 977.81,377.69 979.03,373.80 980.25,369.89 981.47,365.97 982.69,362.04 983.90,358.09 985.12,354.14 986.34,350.19 987.56,346.23 988.78,342.27 990.00,338.30" fill="none" stroke="#56b4e9" stroke-width="1.05" stroke-linejoin="round" clip-path="url(#c21)"/>
<rect x="746.20" y="338.30" width="243.80" height="267.60" fill="none" stroke="#000" stroke-width="1.0"/>
<line x1="784.55" y1="605.90" x2="784.55" y2="595.30" stroke="#000" stroke-width="1.0"/>
<line x1="784.55" y1="338.30" x2="784.55" y2="348.90" stroke="#000" stroke-width="1.0"/>
<line x1="825.64" y1="605.90" x2="825.64" y2="595.30" stroke="#000" stroke-width="1.0"/>
<line x1="825.64" y1="338.30" x2="825.64" y2="348.90" stroke="#000" stroke-width="1.0"/>
<line x1="866.73" y1="605.90" x2="866.73" y2="595.30" stroke="#000" stroke-width="1.0"/>
<line x1="866.73" y1="338.30" x2="866.73" y2="348.90" stroke="#000" stroke-width="1.0"/>
<line x1="907.82" y1="605.90" x2="907.82" y2="595.30" stroke="#000" stroke-width="1.0"/>
<line x1="907.82" y1="338.30" x2="907.82" y2="348.90" stroke="#000" stroke-width="1.0"/>
<line x1="948.91" y1="605.90" x2="948.91" y2="595.30" stroke="#000" stroke-width="1.0"/>
<line x1="948.91" y1="338.30" x2="948.91" y2="348.90" stroke="#000" stroke-width="1.0"/>
<line x1="746.20" y1="539.00" x2="756.80" y2="539.00" stroke="#000" stroke-width="1.0"/>
<line x1="990.00" y1="539.00" x2="979.40" y2="539.00" stroke="#000" stroke-width="1.0"/>
<line x1="746.20" y1="472.10" x2="756.80" y2="472.10" stroke="#000" stroke-width="1.0"/>
<line x1="990.00" y1="472.10" x2="979.40" y2="472.10" stroke="#000" stroke-width="1.0"/>
<line x1="746.20" y1="405.20" x2="756.80" y2="405.20" stroke="#000" stroke-width="1.0"/>
<line x1="990.00" y1="405.20" x2="979.40" y2="405.20" stroke="#000" stroke-width="1.0"/>
<text x="733.70" y="613.10" font-size="22.2" text-anchor="end">50</text>
<text x="733.70" y="546.20" font-size="22.2" text-anchor="end">60</text>
<text x="733.70" y="479.30" font-size="22.2" text-anchor="end">70</text>
<text x="733.70" y="412.40" font-size="22.2" text-anchor="end">80</text>
<text x="733.70" y="345.50" font-size="22.2" text-anchor="end">90</text>
<text x="784.55" y="640.00" font-size="22.2" text-anchor="middle">15</text>
<text x="825.64" y="640.00" font-size="22.2" text-anchor="middle">30</text>
<text x="866.73" y="640.00" font-size="22.2" text-anchor="middle">45</text>
<text x="907.82" y="640.00" font-size="22.2" text-anchor="middle">60</text>
<text x="948.91" y="640.00" font-size="22.2" text-anchor="middle">75</text>
<text x="990.00" y="640.00" font-size="22.2" text-anchor="middle">90</text>
<text transform="translate(837.85,680.1) scale(1.13,1)" font-size="28.8" font-style="italic">α</text>
<text transform="translate(863.98,680.6) scale(0.85,1)" font-size="36">(</text>
<text x="874.10" y="677.9" font-size="27.5">°</text>
<text transform="translate(886.88,680.6) scale(0.85,1)" font-size="36">)</text>
<text x="263.50" y="198.90" font-size="22.2" text-anchor="end" word-spacing="1.9" letter-spacing="0.05">1.050 eV</text>
<line x1="276.20" y1="191.60" x2="299.80" y2="191.60" stroke="#9400d3" stroke-width="1.05"/>
<text x="263.50" y="225.45" font-size="22.2" text-anchor="end" word-spacing="1.9" letter-spacing="0.05">1.055 eV</text>
<line x1="276.20" y1="218.15" x2="299.80" y2="218.15" stroke="#009e73" stroke-width="1.05"/>
<text x="263.50" y="252.00" font-size="22.2" text-anchor="end" word-spacing="1.9" letter-spacing="0.05">1.060 eV</text>
<line x1="276.20" y1="244.70" x2="299.80" y2="244.70" stroke="#56b4e9" stroke-width="1.05"/>
<text x="263.50" y="278.55" font-size="22.2" text-anchor="end" word-spacing="1.9" letter-spacing="0.05">1.065 eV</text>
<line x1="276.20" y1="271.25" x2="299.80" y2="271.25" stroke="#e69f00" stroke-width="1.05"/>
<text x="584.20" y="237.60" font-size="22.2" text-anchor="end" word-spacing="1.9" letter-spacing="0.05">2.648 eV</text>
<line x1="597.10" y1="230.30" x2="620.90" y2="230.30" stroke="#9400d3" stroke-width="1.05"/>
<text x="584.20" y="264.05" font-size="22.2" text-anchor="end" word-spacing="1.9" letter-spacing="0.05">2.653 eV</text>
<line x1="597.10" y1="256.75" x2="620.90" y2="256.75" stroke="#009e73" stroke-width="1.05"/>
<text x="584.20" y="290.50" font-size="22.2" text-anchor="end" word-spacing="1.9" letter-spacing="0.05">2.658 eV</text>
<line x1="597.10" y1="283.20" x2="620.90" y2="283.20" stroke="#56b4e9" stroke-width="1.05"/>
<text x="894.20" y="237.60" font-size="22.2" text-anchor="end" word-spacing="1.9" letter-spacing="0.05">3.435 eV</text>
<line x1="907.10" y1="230.30" x2="930.90" y2="230.30" stroke="#9400d3" stroke-width="1.05"/>
<text x="894.20" y="264.05" font-size="22.2" text-anchor="end" word-spacing="1.9" letter-spacing="0.05">3.438 eV</text>
<line x1="907.10" y1="256.75" x2="930.90" y2="256.75" stroke="#009e73" stroke-width="1.05"/>
<text x="894.20" y="290.50" font-size="22.2" text-anchor="end" word-spacing="1.9" letter-spacing="0.05">3.446 eV</text>
<line x1="907.10" y1="283.20" x2="930.90" y2="283.20" stroke="#56b4e9" stroke-width="1.05"/>
<text x="236.30" y="372.80" font-size="22.2" text-anchor="end" word-spacing="1.9" letter-spacing="0.05">1.050 eV</text>
<line x1="249.10" y1="365.50" x2="272.70" y2="365.50" stroke="#9400d3" stroke-width="1.05"/>
<text x="236.30" y="399.33" font-size="22.2" text-anchor="end" word-spacing="1.9" letter-spacing="0.05">1.055 eV</text>
<line x1="249.10" y1="392.03" x2="272.70" y2="392.03" stroke="#009e73" stroke-width="1.05"/>
<text x="236.30" y="425.86" font-size="22.2" text-anchor="end" word-spacing="1.9" letter-spacing="0.05">1.060 eV</text>
<line x1="249.10" y1="418.56" x2="272.70" y2="418.56" stroke="#56b4e9" stroke-width="1.05"/>
<text x="236.30" y="452.39" font-size="22.2" text-anchor="end" word-spacing="1.9" letter-spacing="0.05">1.065 eV</text>
<line x1="249.10" y1="445.09" x2="272.70" y2="445.09" stroke="#e69f00" stroke-width="1.05"/>
<text x="577.70" y="408.40" font-size="22.2" text-anchor="end" word-spacing="1.9" letter-spacing="0.05">2.648 eV</text>
<line x1="590.30" y1="401.10" x2="613.90" y2="401.10" stroke="#9400d3" stroke-width="1.05"/>
<text x="577.70" y="435.00" font-size="22.2" text-anchor="end" word-spacing="1.9" letter-spacing="0.05">2.653 eV</text>
<line x1="590.30" y1="427.70" x2="613.90" y2="427.70" stroke="#009e73" stroke-width="1.05"/>
<text x="577.70" y="461.60" font-size="22.2" text-anchor="end" word-spacing="1.9" letter-spacing="0.05">2.658 eV</text>
<line x1="590.30" y1="454.30" x2="613.90" y2="454.30" stroke="#56b4e9" stroke-width="1.05"/>
<text x="893.10" y="386.30" font-size="22.2" text-anchor="end" word-spacing="1.9" letter-spacing="0.05">3.435 eV</text>
<line x1="905.70" y1="379.00" x2="929.50" y2="379.00" stroke="#9400d3" stroke-width="1.05"/>
<text x="893.10" y="412.85" font-size="22.2" text-anchor="end" word-spacing="1.9" letter-spacing="0.05">3.438 eV</text>
<line x1="905.70" y1="405.55" x2="929.50" y2="405.55" stroke="#009e73" stroke-width="1.05"/>
<text x="893.10" y="439.40" font-size="22.2" text-anchor="end" word-spacing="1.9" letter-spacing="0.05">3.446 eV</text>
<line x1="905.70" y1="432.10" x2="929.50" y2="432.10" stroke="#56b4e9" stroke-width="1.05"/>
<text transform="translate(134.6,56.4) scale(0.92,1)" font-size="34.5">GeSe</text>
<g transform="translate(48.5,250) rotate(-90)"><text transform="translate(0.22,0.00) scale(0.9,1)" font-size="24" font-family="'DejaVu Serif','DejaVu Sans',serif">𝕍</text><text transform="translate(18.97,-10.80) scale(1.1,1)" font-size="17" font-style="italic">z</text><text x="27.46" y="0.00" font-size="28.5">(</text><text x="38.68" y="0.00" font-size="24" font-style="italic">ω</text><text x="56.14" y="0.00" font-size="26">,</text><text transform="translate(63.76,0.00) scale(1.08,1)" font-size="25" font-style="italic">α</text><text x="81.74" y="0.00" font-size="28.5">)</text><text x="103.06" y="0.00" font-size="28.5">(</text><text letter-spacing="0.95" x="115.46" y="0.00" font-size="27">Km/s</text><text x="175.34" y="0.00" font-size="28.5">)</text></g>
<g transform="translate(24.4,543.8) rotate(-90)"><text x="-1.24" y="0.00" font-size="31" font-style="italic">θ</text><text transform="translate(12.48,-13.90) scale(1.2,1)" font-size="20" font-style="italic">z</text><text x="24.66" y="0.00" font-size="33.4">(</text><text x="37.66" y="0.00" font-size="31.5" font-style="italic">ω</text><text x="59.74" y="0.00" font-size="31">,</text><text transform="translate(70.48,0.00) scale(1.12,1)" font-size="32" font-style="italic">α</text><text x="90.60" y="0.00" font-size="33.4">)</text><text x="109.46" y="0.00" font-size="33.4">(</text><text x="119.64" y="-3.00" font-size="29">°</text><text x="131.00" y="0.00" font-size="33.4">)</text></g>
</svg>
</body></html>
